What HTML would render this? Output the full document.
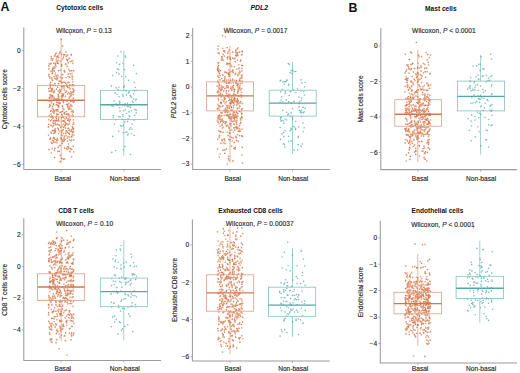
<!DOCTYPE html><html><head><meta charset="utf-8"><style>html,body{margin:0;padding:0;background:#fff;width:520px;height:373px;overflow:hidden}svg{display:block}text{font-family:"Liberation Sans",sans-serif;fill:#262626;stroke:#262626;stroke-width:0.14px}</style></head><body>
<svg width="520" height="373" viewBox="0 0 520 373">
<text x="0.4" y="11.3" style="font-size:12.4px;font-weight:bold;fill:#111;stroke:none">A</text>
<text x="348.4" y="11.5" style="font-size:12.4px;font-weight:bold;fill:#111;stroke:none">B</text>
<path d="M23.8 27.5V169.5H161" fill="none" stroke="#9c9c9c" stroke-width="1.05"/>
<path d="M21.8 50.5H23.8M21.8 88.5H23.8M21.8 126.4H23.8M21.8 164.4H23.8M61.2 169.5V171.5M123.8 169.5V171.5" stroke="#9c9c9c" stroke-width="0.8"/>
<text x="20.6" y="52.8" text-anchor="end" style="font-size:6.6px">0</text>
<text x="20.6" y="90.8" text-anchor="end" style="font-size:6.6px">−2</text>
<text x="20.6" y="128.70000000000002" text-anchor="end" style="font-size:6.6px">−4</text>
<text x="20.6" y="166.70000000000002" text-anchor="end" style="font-size:6.6px">−6</text>
<path d="M61.2 38V85.5M61.2 116.8V162.8" stroke="#d8a084" stroke-width="0.75"/>
<path d="M72.1 101.1h0M63.4 102.6h0M64.5 70.9h0M56.2 139.6h0M73.5 128.4h0M48.8 119.6h0M53.3 109.7h0M60.3 77.3h0M61.7 99.8h0M65.4 122.4h0M73.9 101.7h0M54.3 130.0h0M68.0 82.7h0M58.3 95.2h0M50.6 138.0h0M67.8 87.6h0M51.0 63.3h0M67.1 100.6h0M53.8 63.2h0M71.1 140.8h0M70.3 73.8h0M73.7 122.5h0M68.2 74.1h0M50.3 87.2h0M73.0 92.0h0M70.6 104.7h0M71.7 70.7h0M53.3 142.4h0M49.4 97.6h0M69.5 129.6h0M52.9 117.4h0M54.2 131.4h0M64.1 113.2h0M55.3 73.0h0M52.9 100.4h0M51.8 91.7h0M73.5 90.9h0M63.4 124.2h0M48.9 65.9h0M64.7 158.8h0M56.6 104.5h0M71.4 111.7h0M68.7 133.3h0M68.6 148.4h0M63.3 120.6h0M64.8 118.8h0M67.2 132.3h0M69.9 115.6h0M66.3 104.3h0M72.0 106.2h0M56.1 78.9h0M52.7 126.6h0M56.8 99.9h0M59.4 125.2h0M51.9 115.9h0M70.1 106.1h0M59.9 81.3h0M59.0 81.1h0M56.5 120.7h0M49.2 101.1h0M66.5 148.6h0M68.7 114.5h0M60.0 52.2h0M49.6 76.8h0M64.5 121.1h0M72.9 124.0h0M60.6 127.3h0M60.5 70.2h0M55.4 130.7h0M61.7 89.1h0M58.5 119.4h0M60.0 131.6h0M58.0 120.7h0M68.8 114.3h0M66.9 123.6h0M71.4 131.1h0M56.6 110.7h0M59.7 89.4h0M60.9 112.2h0M68.6 69.5h0M61.6 65.9h0M50.6 105.7h0M55.8 75.0h0M61.8 132.4h0M70.0 85.2h0M70.2 151.8h0M62.1 114.7h0M49.1 106.9h0M62.8 95.3h0M50.1 105.5h0M72.9 110.9h0M59.5 103.5h0M53.3 103.8h0M51.7 119.8h0M53.4 138.1h0M64.3 86.4h0M62.0 78.3h0M59.0 99.4h0M53.6 109.8h0M62.0 121.3h0M67.4 146.8h0M72.0 85.7h0M54.5 150.3h0M50.9 132.1h0M68.6 144.0h0M65.9 64.2h0M65.9 52.0h0M66.0 135.7h0M51.1 71.4h0M52.2 108.2h0M69.9 70.9h0M72.8 60.8h0M56.8 102.2h0M59.4 102.8h0M66.3 117.9h0M60.0 145.4h0M53.4 133.5h0M48.8 68.7h0M63.7 121.1h0M69.0 107.0h0M69.3 134.1h0M70.9 95.8h0M68.0 128.5h0M50.2 95.8h0M48.7 88.6h0M64.4 90.2h0M65.3 125.3h0M58.4 114.4h0M73.5 129.2h0M58.7 133.5h0M58.0 55.7h0M71.6 61.1h0M73.2 112.2h0M64.7 114.2h0M63.7 141.5h0M72.2 135.8h0M52.7 68.1h0M49.9 106.0h0M57.8 109.5h0M62.8 82.3h0M54.7 83.5h0M67.7 54.8h0M67.6 94.1h0M71.6 156.7h0M73.3 98.5h0M72.4 77.5h0M73.5 131.7h0M51.3 142.3h0M53.6 120.5h0M65.5 64.0h0M63.3 101.5h0M62.0 97.4h0M51.3 133.0h0M55.4 120.6h0M63.5 127.4h0M53.3 121.5h0M55.3 54.5h0M51.0 98.0h0M50.6 111.2h0M64.6 126.4h0M53.8 92.2h0M69.9 88.8h0M69.1 58.4h0M53.9 120.5h0M69.1 98.0h0M73.7 91.7h0M67.5 86.8h0M70.8 91.7h0M62.8 58.9h0M56.1 104.8h0M53.9 137.6h0M56.2 124.8h0M55.6 131.9h0M67.0 66.1h0M66.6 91.4h0M72.5 114.3h0M56.5 140.7h0M71.3 95.2h0M57.8 78.1h0M58.3 91.1h0M69.8 140.1h0M67.8 113.6h0M49.0 149.5h0M62.9 108.3h0M62.4 140.9h0M50.5 139.1h0M54.0 123.3h0M68.0 136.5h0M73.2 94.6h0M62.2 126.0h0M71.8 131.5h0M65.5 96.4h0M68.9 109.2h0M52.1 97.6h0M53.6 92.4h0M73.2 98.0h0M51.3 56.7h0M53.0 123.2h0M63.4 57.0h0M51.2 152.8h0M54.4 70.9h0M54.1 131.0h0M52.8 70.9h0M62.4 135.6h0M55.1 142.3h0M72.9 88.7h0M49.7 104.5h0M61.6 93.5h0M48.7 124.3h0M68.8 103.4h0M52.4 130.6h0M55.0 67.7h0M52.3 80.1h0M69.4 137.1h0M66.7 59.3h0M60.4 61.0h0M68.6 146.9h0M50.7 97.1h0M62.3 143.4h0M69.7 109.4h0M50.3 85.2h0M66.7 84.5h0M51.1 90.6h0M73.2 94.5h0M62.8 130.2h0M73.8 101.8h0M64.2 140.3h0M62.2 82.8h0M58.4 83.7h0M53.5 125.3h0M72.6 132.7h0M56.9 113.6h0M52.0 143.4h0M58.7 130.0h0M52.4 60.2h0M50.3 64.0h0M68.0 107.8h0M56.9 142.8h0M58.7 96.6h0M64.0 139.2h0M51.1 88.7h0M68.6 92.7h0M52.0 89.8h0M69.8 108.3h0M50.5 120.9h0M66.2 77.6h0M57.6 87.2h0M73.3 102.3h0M62.7 111.4h0M69.5 118.0h0M69.7 77.2h0M53.0 58.6h0M65.6 124.4h0M63.6 133.4h0M53.5 140.8h0M58.3 102.9h0M61.7 114.4h0M56.9 79.8h0M65.6 122.5h0M58.9 117.8h0M67.8 120.5h0M73.9 134.9h0M62.9 96.2h0M71.5 109.3h0M67.0 86.2h0M56.2 117.5h0M51.6 117.1h0M58.6 100.5h0M56.2 109.5h0M50.2 94.7h0M59.2 125.2h0M67.5 141.0h0M50.9 114.0h0M62.2 139.5h0M54.6 157.5h0M50.0 83.8h0M63.4 94.9h0M71.4 55.2h0M72.3 84.8h0M72.0 73.3h0M69.9 151.3h0M52.8 90.0h0M67.0 55.7h0M56.3 58.9h0M53.0 130.3h0M65.3 139.3h0M72.1 75.9h0M64.8 125.4h0M62.0 99.8h0M69.0 82.2h0M67.7 59.8h0M62.4 77.8h0M60.2 161.6h0M72.2 134.8h0M62.6 106.5h0M65.3 122.9h0M61.3 138.5h0M52.9 108.8h0M64.0 138.1h0M68.2 76.6h0M54.1 76.7h0M49.3 115.6h0M63.1 117.4h0M52.3 148.6h0M55.1 99.1h0M71.6 140.2h0M68.7 114.3h0M56.4 76.9h0M64.3 54.8h0M63.5 109.4h0M52.5 69.4h0M68.5 128.0h0M57.7 56.9h0M67.5 66.3h0M71.2 54.4h0M56.0 66.0h0M49.3 98.0h0M54.9 132.9h0M60.2 112.4h0M64.0 88.1h0M65.0 54.5h0M66.2 56.6h0M58.2 94.4h0M57.3 138.3h0M53.9 68.5h0M59.8 102.9h0M58.2 147.5h0M48.9 91.0h0M58.5 70.6h0M52.3 80.4h0M71.6 136.5h0M71.0 93.4h0M61.7 86.8h0M54.5 56.2h0M63.6 54.6h0M59.3 53.6h0M66.5 111.5h0M53.6 125.3h0M70.6 95.8h0M57.2 75.5h0M49.0 74.4h0M69.1 121.2h0M64.6 148.1h0M58.4 60.2h0M56.8 56.8h0M52.5 106.2h0M52.7 95.5h0M50.8 125.2h0M52.3 88.6h0M62.6 115.8h0M58.4 129.1h0M58.8 91.2h0M56.7 116.2h0M57.3 78.6h0M64.2 71.0h0M68.1 115.1h0M58.9 120.9h0M69.6 97.0h0M71.7 149.4h0M61.4 54.3h0M73.4 84.9h0M54.2 66.9h0M48.4 126.9h0M54.5 111.5h0M62.4 105.8h0M69.7 120.6h0M56.4 89.2h0M66.0 130.9h0M57.9 105.4h0M54.8 110.3h0M61.6 86.7h0M50.2 64.2h0M68.2 62.7h0M70.6 104.3h0M54.9 148.3h0M58.4 107.3h0M66.7 130.9h0M67.8 86.9h0M66.5 114.1h0M68.9 120.4h0M65.5 64.1h0M48.8 76.1h0M73.2 116.2h0M58.6 97.4h0M55.7 63.4h0M49.1 63.6h0M58.0 111.3h0M69.9 84.9h0M64.2 82.1h0M62.4 94.0h0M52.9 140.4h0M51.5 78.4h0M62.9 86.6h0M60.7 81.0h0M49.7 91.3h0M53.1 85.0h0M53.6 104.6h0M58.5 96.8h0M55.5 124.2h0M52.7 69.9h0M57.6 63.4h0M61.6 135.2h0M61.9 158.4h0M69.0 133.1h0M71.7 129.7h0M57.9 75.7h0M57.7 124.2h0M55.5 122.1h0M67.4 60.6h0M52.9 111.7h0M57.4 62.0h0M61.3 98.7h0M62.2 95.6h0M67.7 149.5h0M54.0 98.6h0M53.0 96.1h0M73.7 70.7h0M53.8 92.7h0M70.3 119.6h0M62.9 121.0h0M65.4 128.0h0M54.3 97.4h0M61.6 117.9h0M63.6 100.5h0M60.4 155.3h0M73.7 85.4h0M51.6 95.4h0M69.6 123.4h0M73.8 140.1h0M69.1 130.4h0M70.6 101.3h0M64.9 72.1h0M54.6 138.9h0M71.6 137.1h0M57.8 140.0h0M57.3 61.3h0M58.3 63.3h0M73.7 151.9h0M57.1 98.7h0M55.5 85.6h0M53.0 118.1h0M51.4 102.7h0M73.9 90.4h0M57.6 128.2h0M52.1 85.1h0M69.4 121.3h0M61.4 96.2h0M63.2 129.5h0M72.3 126.5h0M63.8 93.8h0M59.1 100.7h0M72.8 81.8h0M65.6 83.1h0M51.8 77.7h0M59.2 151.2h0M70.2 88.6h0M50.9 116.8h0M57.7 151.3h0M65.5 92.3h0M72.7 88.9h0M60.3 103.0h0M63.9 85.7h0M58.7 57.5h0M73.7 124.1h0M52.1 73.7h0M50.5 94.6h0M54.9 120.4h0M60.4 137.7h0M51.2 110.6h0M61.4 139.2h0M61.5 64.7h0M49.8 77.9h0M62.7 74.6h0M51.1 101.9h0M73.2 146.1h0M64.1 109.3h0M52.3 96.7h0M62.0 130.5h0M56.1 53.2h0M59.1 145.8h0M51.3 58.9h0M71.1 105.3h0M58.5 106.6h0M55.0 83.8h0M60.6 91.6h0M59.9 90.5h0M54.1 111.9h0M56.4 61.2h0M67.6 104.7h0M58.8 105.1h0M63.6 159.2h0M56.1 117.6h0M56.5 118.8h0M67.7 106.2h0M54.9 56.0h0M58.7 98.1h0M50.6 82.3h0M69.4 87.1h0M49.9 139.1h0M64.4 136.3h0M64.8 112.4h0M48.5 135.1h0M65.8 133.3h0M58.1 99.8h0M51.4 100.6h0M50.2 86.2h0M51.3 125.3h0M72.8 63.4h0M53.8 113.3h0M69.9 96.9h0M59.5 103.4h0M72.2 92.7h0M58.3 105.8h0M67.4 138.0h0M52.6 72.8h0M61.7 89.5h0M70.0 93.9h0M60.7 90.5h0M55.1 128.8h0M55.0 132.5h0M59.5 92.7h0M73.4 119.8h0M67.7 105.0h0M70.1 61.6h0M56.9 114.2h0M62.1 74.7h0M68.0 118.9h0M72.1 115.8h0M72.7 127.9h0M70.4 131.2h0M54.8 132.1h0M54.9 78.7h0M55.4 64.9h0M61.4 82.2h0M70.4 148.7h0M62.1 111.4h0M68.2 124.6h0M72.4 79.4h0M54.4 91.0h0M67.1 101.2h0M70.1 34.0h0M61.3 39.2h0M62.5 46.0h0" stroke="#d8662e" stroke-opacity="0.62" stroke-width="1.7" stroke-linecap="round"/>
<path d="M72.1 101.1h0M64.5 70.9h0M73.5 128.4h0M53.3 109.7h0M61.7 99.8h0M73.9 101.7h0M68.0 82.7h0M50.6 138.0h0M51.0 63.3h0M53.8 63.2h0M70.3 73.8h0M68.2 74.1h0M73.0 92.0h0M71.7 70.7h0M49.4 97.6h0M52.9 117.4h0M64.1 113.2h0M52.9 100.4h0M73.5 90.9h0M48.9 65.9h0M56.6 104.5h0M68.7 133.3h0M63.3 120.6h0M67.2 132.3h0M66.3 104.3h0M56.1 78.9h0M56.8 99.9h0M51.9 115.9h0M59.9 81.3h0M56.5 120.7h0M66.5 148.6h0M60.0 52.2h0M64.5 121.1h0M60.6 127.3h0M55.4 130.7h0M58.5 119.4h0M58.0 120.7h0M66.9 123.6h0M56.6 110.7h0M60.9 112.2h0M61.6 65.9h0M55.8 75.0h0M70.0 85.2h0M62.1 114.7h0M62.8 95.3h0M72.9 110.9h0M53.3 103.8h0M53.4 138.1h0M62.0 78.3h0M53.6 109.8h0M67.4 146.8h0M54.5 150.3h0M68.6 144.0h0M65.9 52.0h0M51.1 71.4h0M69.9 70.9h0M56.8 102.2h0M66.3 117.9h0M53.4 133.5h0M63.7 121.1h0M69.3 134.1h0M68.0 128.5h0M48.7 88.6h0M65.3 125.3h0M73.5 129.2h0M58.0 55.7h0M73.2 112.2h0M63.7 141.5h0M52.7 68.1h0M57.8 109.5h0M54.7 83.5h0M67.6 94.1h0M73.3 98.5h0M73.5 131.7h0M53.6 120.5h0M63.3 101.5h0M51.3 133.0h0M63.5 127.4h0M55.3 54.5h0M50.6 111.2h0M53.8 92.2h0M69.1 58.4h0M69.1 98.0h0M67.5 86.8h0M62.8 58.9h0M53.9 137.6h0M55.6 131.9h0M66.6 91.4h0M56.5 140.7h0M57.8 78.1h0M69.8 140.1h0M49.0 149.5h0M62.4 140.9h0M54.0 123.3h0M73.2 94.6h0M71.8 131.5h0M68.9 109.2h0M53.6 92.4h0M51.3 56.7h0M63.4 57.0h0M54.4 70.9h0M52.8 70.9h0M55.1 142.3h0M49.7 104.5h0M48.7 124.3h0M52.4 130.6h0M52.3 80.1h0M66.7 59.3h0M68.6 146.9h0M62.3 143.4h0M50.3 85.2h0M51.1 90.6h0M62.8 130.2h0M64.2 140.3h0M58.4 83.7h0M72.6 132.7h0M52.0 143.4h0M52.4 60.2h0M68.0 107.8h0M58.7 96.6h0M51.1 88.7h0M52.0 89.8h0M50.5 120.9h0M57.6 87.2h0M62.7 111.4h0M69.7 77.2h0M65.6 124.4h0M53.5 140.8h0M61.7 114.4h0M65.6 122.5h0M67.8 120.5h0M62.9 96.2h0M67.0 86.2h0M51.6 117.1h0M56.2 109.5h0M59.2 125.2h0M50.9 114.0h0M54.6 157.5h0M63.4 94.9h0M72.3 84.8h0M69.9 151.3h0M67.0 55.7h0M53.0 130.3h0M72.1 75.9h0M62.0 99.8h0M67.7 59.8h0M60.2 161.6h0M62.6 106.5h0M61.3 138.5h0M64.0 138.1h0M54.1 76.7h0M63.1 117.4h0M55.1 99.1h0M68.7 114.3h0M64.3 54.8h0M52.5 69.4h0M57.7 56.9h0M71.2 54.4h0M49.3 98.0h0M60.2 112.4h0M65.0 54.5h0M58.2 94.4h0M53.9 68.5h0M58.2 147.5h0M58.5 70.6h0M71.6 136.5h0M61.7 86.8h0M63.6 54.6h0M66.5 111.5h0M70.6 95.8h0M49.0 74.4h0M64.6 148.1h0M56.8 56.8h0M52.7 95.5h0M52.3 88.6h0M58.4 129.1h0M56.7 116.2h0M64.2 71.0h0M58.9 120.9h0M71.7 149.4h0M73.4 84.9h0M48.4 126.9h0M62.4 105.8h0M56.4 89.2h0M57.9 105.4h0M61.6 86.7h0M68.2 62.7h0M54.9 148.3h0M66.7 130.9h0M66.5 114.1h0M65.5 64.1h0M73.2 116.2h0M55.7 63.4h0M58.0 111.3h0M64.2 82.1h0M52.9 140.4h0M62.9 86.6h0M49.7 91.3h0M53.6 104.6h0M55.5 124.2h0M57.6 63.4h0M61.9 158.4h0M71.7 129.7h0M57.7 124.2h0M67.4 60.6h0M57.4 62.0h0M62.2 95.6h0M54.0 98.6h0M73.7 70.7h0M70.3 119.6h0M65.4 128.0h0M61.6 117.9h0M60.4 155.3h0M51.6 95.4h0M73.8 140.1h0M70.6 101.3h0M54.6 138.9h0M57.8 140.0h0M58.3 63.3h0M57.1 98.7h0M53.0 118.1h0M73.9 90.4h0M52.1 85.1h0M61.4 96.2h0M72.3 126.5h0M59.1 100.7h0M65.6 83.1h0M59.2 151.2h0M50.9 116.8h0M65.5 92.3h0M60.3 103.0h0M58.7 57.5h0M52.1 73.7h0M54.9 120.4h0M51.2 110.6h0M61.5 64.7h0M62.7 74.6h0M73.2 146.1h0M52.3 96.7h0M56.1 53.2h0M51.3 58.9h0M58.5 106.6h0M60.6 91.6h0M54.1 111.9h0M67.6 104.7h0M63.6 159.2h0M56.5 118.8h0M54.9 56.0h0M50.6 82.3h0M49.9 139.1h0M64.8 112.4h0M65.8 133.3h0M51.4 100.6h0M51.3 125.3h0M53.8 113.3h0M59.5 103.4h0M58.3 105.8h0M52.6 72.8h0M70.0 93.9h0M55.1 128.8h0M59.5 92.7h0M67.7 105.0h0M56.9 114.2h0M68.0 118.9h0M72.7 127.9h0M54.8 132.1h0M55.4 64.9h0M70.4 148.7h0M68.2 124.6h0M54.4 91.0h0M70.1 34.0h0M62.5 46.0h0" stroke="#a04e24" stroke-opacity="0.5" stroke-width="0.9" stroke-linecap="round"/>
<rect x="37.5" y="85.5" width="47.2" height="31.3" fill="none" stroke="#d8a084" stroke-width="0.8"/>
<path d="M37.5 100.3H84.7" stroke="#d07850" stroke-width="1.4"/>
<path d="M123.8 50.9V90.3M123.8 119.5V155.8" stroke="#86c0c0" stroke-width="0.75"/>
<path d="M135.3 87.3h0M134.1 120.3h0M125.6 57.3h0M124.5 105.8h0M116.1 87.9h0M123.4 125.4h0M125.4 109.7h0M119.6 64.4h0M123.5 150.0h0M126.7 113.2h0M113.2 115.6h0M111.8 105.6h0M111.8 152.4h0M130.4 105.6h0M112.7 136.4h0M111.4 85.9h0M126.0 132.4h0M128.3 106.3h0M133.6 98.7h0M117.5 68.8h0M119.5 101.3h0M118.7 69.7h0M124.8 122.1h0M121.6 76.2h0M131.2 133.7h0M126.2 90.6h0M131.9 129.3h0M134.4 90.7h0M133.5 65.4h0M118.0 89.8h0M115.7 150.5h0M118.9 87.2h0M124.5 69.6h0M130.5 107.8h0M113.1 106.4h0M118.9 73.9h0M119.5 103.9h0M131.3 110.8h0M122.9 114.5h0M130.5 154.6h0M115.2 92.9h0M116.6 72.6h0M115.7 119.8h0M123.1 116.2h0M120.1 116.8h0M122.8 94.6h0M128.6 80.4h0M123.7 87.1h0M123.7 90.5h0M113.3 117.6h0M127.4 103.2h0M131.5 97.4h0M134.1 135.4h0M125.2 103.9h0M132.5 101.6h0M116.0 103.8h0M134.5 82.5h0M134.9 115.3h0M128.1 118.9h0M129.6 116.6h0M120.0 102.6h0M127.7 135.1h0M118.0 105.2h0M124.4 85.7h0M133.1 102.2h0M130.1 107.3h0M125.9 76.7h0M112.8 75.8h0M127.4 106.4h0M117.0 94.3h0M114.1 100.7h0M130.5 96.3h0M135.0 109.4h0M124.9 146.6h0M125.1 56.1h0M130.6 127.8h0M122.7 119.3h0M123.2 96.3h0M117.9 56.0h0M114.3 124.3h0M130.1 95.5h0M128.4 93.1h0M129.2 115.9h0M123.1 63.8h0M121.0 51.8h0M135.4 100.1h0M136.2 112.9h0M116.7 62.8h0M133.7 93.9h0M120.4 125.8h0M119.1 96.7h0M118.8 116.8h0M123.1 132.7h0M136.0 90.2h0M128.2 134.1h0M129.5 129.3h0M127.7 121.6h0M119.7 107.7h0M121.7 126.1h0M126.7 132.0h0M136.4 73.6h0M129.2 91.9h0M129.1 111.9h0M136.3 110.1h0M123.7 110.7h0M126.5 94.9h0M136.4 99.3h0M120.0 110.9h0M118.7 131.2h0M132.2 124.0h0" stroke="#4aa3a3" stroke-opacity="0.72" stroke-width="1.6" stroke-linecap="round"/>
<rect x="100.4" y="90.3" width="47.1" height="29.2" fill="none" stroke="#86c0c0" stroke-width="0.8"/>
<path d="M100.4 104.8H147.5" stroke="#55a6a6" stroke-width="1.4"/>
<text x="62.8" y="180.9" text-anchor="middle" style="font-size:6.6px">Basal</text>
<text x="124.8" y="180.9" text-anchor="middle" style="font-size:6.6px">Non-basal</text>
<text x="56.300000000000004" y="10.4" textLength="46.8" lengthAdjust="spacingAndGlyphs" style="font-size:6.6px;font-weight:bold;fill:#111;stroke:none">Cytotoxic cells</text>
<text x="55.900000000000006" y="33.4" textLength="55.7" lengthAdjust="spacing" style="font-size:6.6px">Wilcoxon, <tspan font-style="italic">P</tspan> = 0.13</text>
<text transform="translate(7.1 99.2) rotate(-90)" text-anchor="middle" style="font-size:6.6px">Cytotoxic cells score</text>
<path d="M192.7 28V169.5H330" fill="none" stroke="#9c9c9c" stroke-width="1.05"/>
<path d="M190.7 35.7H192.7M190.7 61.4H192.7M190.7 87.0H192.7M190.7 112.7H192.7M190.7 138.3H192.7M190.7 164.0H192.7M230 169.5V171.5M292.5 169.5V171.5" stroke="#9c9c9c" stroke-width="0.8"/>
<text x="189.5" y="38.0" text-anchor="end" style="font-size:6.6px">2</text>
<text x="189.5" y="63.699999999999996" text-anchor="end" style="font-size:6.6px">1</text>
<text x="189.5" y="89.3" text-anchor="end" style="font-size:6.6px">0</text>
<text x="189.5" y="115.0" text-anchor="end" style="font-size:6.6px">−1</text>
<text x="189.5" y="140.60000000000002" text-anchor="end" style="font-size:6.6px">−2</text>
<text x="189.5" y="166.3" text-anchor="end" style="font-size:6.6px">−3</text>
<path d="M230 46V81.9M230 110.9V163" stroke="#d8a084" stroke-width="0.75"/>
<path d="M226.4 90.9h0M226.8 109.4h0M225.2 123.6h0M220.2 75.5h0M229.7 133.2h0M238.2 128.1h0M235.2 147.4h0M239.7 128.5h0M225.2 71.8h0M231.8 98.1h0M233.1 72.4h0M228.2 86.3h0M226.3 125.9h0M239.8 129.4h0M226.5 148.9h0M219.6 110.1h0M242.4 51.2h0M218.8 116.8h0M235.0 58.0h0M234.3 66.8h0M229.2 128.1h0M226.3 80.1h0M224.7 88.5h0M225.1 76.8h0M220.1 115.9h0M239.9 106.4h0M230.0 123.8h0M230.1 94.8h0M230.8 101.3h0M224.9 72.4h0M222.1 119.2h0M236.3 126.7h0M231.4 99.6h0M242.1 54.8h0M225.1 110.1h0M242.6 162.9h0M227.2 47.6h0M231.6 121.5h0M229.1 114.7h0M231.1 71.6h0M233.4 85.7h0M219.1 123.5h0M241.7 135.9h0M233.5 111.9h0M237.6 52.8h0M218.0 62.6h0M241.7 65.3h0M238.4 83.9h0M223.7 91.2h0M229.9 130.4h0M222.0 125.6h0M238.8 74.0h0M227.0 125.0h0M218.7 130.7h0M230.8 104.1h0M242.4 51.8h0M221.0 89.8h0M221.8 115.9h0M236.8 105.0h0M222.1 112.7h0M239.3 131.5h0M229.2 49.9h0M238.3 131.2h0M218.2 63.4h0M218.4 91.0h0M220.1 154.1h0M220.1 79.8h0M230.9 65.8h0M231.7 90.3h0M229.3 105.9h0M217.4 68.8h0M241.3 92.3h0M235.3 61.6h0M240.5 89.9h0M224.7 50.8h0M239.0 67.9h0M242.3 136.3h0M241.7 88.7h0M220.6 93.6h0M233.3 138.1h0M232.7 79.0h0M239.1 68.6h0M222.1 89.1h0M231.5 146.2h0M217.2 86.1h0M235.5 121.2h0M235.7 73.4h0M227.4 95.7h0M229.1 82.9h0M237.2 126.9h0M218.1 118.8h0M235.9 94.9h0M242.0 113.5h0M218.1 52.9h0M234.7 100.2h0M226.7 110.6h0M218.0 49.0h0M230.8 65.1h0M239.3 111.4h0M217.5 120.7h0M232.6 102.2h0M218.7 106.1h0M228.9 139.5h0M227.3 105.7h0M226.3 93.0h0M227.4 164.0h0M228.0 63.8h0M228.6 117.0h0M239.9 80.8h0M239.9 71.2h0M220.7 103.0h0M232.7 71.2h0M237.2 85.6h0M233.9 58.9h0M237.4 101.5h0M232.6 70.4h0M240.7 101.5h0M240.3 83.8h0M230.1 139.8h0M236.2 83.5h0M228.0 135.6h0M229.1 128.2h0M221.5 60.0h0M226.6 122.0h0M235.2 117.5h0M236.9 116.6h0M242.0 117.8h0M226.8 94.0h0M233.8 94.4h0M238.9 87.6h0M225.3 121.8h0M220.8 90.6h0M236.6 55.9h0M222.4 87.6h0M224.3 80.3h0M233.6 132.0h0M222.1 140.7h0M237.5 60.1h0M228.8 117.2h0M218.1 116.6h0M242.1 95.7h0M239.4 88.4h0M237.9 113.8h0M227.7 57.5h0M241.7 114.2h0M234.3 101.8h0M235.5 94.8h0M237.4 127.3h0M220.9 143.4h0M241.7 51.6h0M229.1 82.5h0M237.1 112.6h0M237.8 85.1h0M236.9 54.2h0M227.8 115.7h0M229.0 107.4h0M222.3 58.6h0M217.3 108.9h0M238.3 90.8h0M223.1 60.2h0M226.2 101.9h0M229.2 97.6h0M234.7 89.7h0M231.7 129.9h0M227.1 63.1h0M219.2 88.4h0M238.6 96.2h0M220.7 89.5h0M227.0 115.7h0M217.6 66.8h0M235.7 136.3h0M222.0 139.3h0M236.1 83.2h0M226.3 81.7h0M223.9 101.7h0M224.9 140.9h0M234.6 98.2h0M224.7 52.0h0M232.4 95.4h0M223.5 142.7h0M223.0 132.3h0M227.8 53.4h0M231.7 110.5h0M234.5 80.3h0M226.9 85.6h0M224.8 77.9h0M218.0 81.2h0M239.7 102.7h0M230.7 88.5h0M237.3 48.8h0M226.0 111.7h0M237.5 134.6h0M232.0 100.5h0M239.2 108.0h0M240.5 118.7h0M221.4 90.3h0M236.5 112.4h0M225.1 103.7h0M223.0 150.2h0M219.3 137.7h0M229.5 108.3h0M239.9 85.9h0M228.6 156.3h0M227.7 59.0h0M232.5 101.8h0M229.0 72.9h0M226.1 121.9h0M222.6 48.3h0M223.4 50.9h0M242.0 77.1h0M236.8 101.8h0M230.6 106.1h0M233.6 124.1h0M241.8 70.9h0M235.9 51.1h0M242.6 103.6h0M234.2 98.7h0M233.6 127.9h0M228.8 100.5h0M220.0 126.3h0M222.9 74.9h0M240.6 95.1h0M239.4 125.8h0M232.9 117.9h0M219.0 87.8h0M234.6 124.4h0M241.8 117.5h0M232.9 100.2h0M232.9 121.3h0M238.5 88.9h0M237.0 116.0h0M227.3 87.5h0M227.3 57.5h0M225.9 95.9h0M217.6 108.6h0M230.6 80.4h0M218.9 77.4h0M238.1 87.2h0M236.2 116.2h0M236.3 52.5h0M231.7 137.5h0M220.6 119.7h0M234.3 91.4h0M224.9 76.6h0M234.2 117.6h0M241.5 54.9h0M237.5 108.2h0M235.1 98.7h0M237.0 128.8h0M230.7 114.3h0M240.0 78.5h0M226.6 87.2h0M241.9 68.5h0M221.4 115.5h0M222.9 80.9h0M229.8 63.4h0M241.6 95.6h0M230.8 83.0h0M232.8 58.1h0M235.2 149.2h0M242.0 74.9h0M226.6 109.8h0M224.8 153.4h0M226.3 87.7h0M233.0 70.0h0M230.9 123.6h0M238.3 141.3h0M237.5 74.8h0M241.5 109.3h0M222.3 128.0h0M231.4 102.9h0M220.3 95.2h0M220.4 70.6h0M220.1 117.5h0M220.6 121.8h0M237.7 116.1h0M225.0 143.6h0M238.6 103.6h0M218.6 71.5h0M242.5 136.2h0M239.4 80.2h0M238.1 55.5h0M218.6 100.0h0M228.9 94.1h0M219.2 53.4h0M238.4 96.1h0M231.4 118.0h0M238.7 64.8h0M233.4 115.0h0M228.2 51.7h0M218.4 115.8h0M241.0 111.9h0M217.6 70.4h0M217.6 148.8h0M232.9 114.0h0M224.6 79.0h0M239.5 135.6h0M232.1 86.8h0M218.2 82.6h0M219.8 118.0h0M236.5 137.6h0M241.1 78.2h0M226.9 114.7h0M233.6 113.2h0M226.6 72.6h0M231.2 97.2h0M231.4 107.1h0M231.3 126.0h0M228.5 73.8h0M230.5 80.6h0M237.4 99.6h0M224.3 56.1h0M219.2 70.0h0M233.7 107.8h0M229.5 116.8h0M229.1 118.3h0M236.0 127.3h0M236.9 118.7h0M228.3 80.0h0M217.6 91.4h0M233.0 115.8h0M234.3 120.8h0M234.5 112.1h0M242.0 129.0h0M230.3 102.8h0M239.9 88.3h0M242.2 147.4h0M221.4 121.2h0M239.5 88.0h0M237.5 101.6h0M241.6 116.7h0M231.2 116.7h0M233.8 148.3h0M221.3 103.5h0M228.0 73.4h0M233.1 117.0h0M237.8 101.9h0M223.7 110.5h0M234.7 130.1h0M232.0 97.7h0M231.6 107.7h0M238.2 47.8h0M221.7 78.5h0M217.7 104.4h0M218.6 65.5h0M242.0 83.2h0M234.4 115.7h0M229.5 74.3h0M229.8 103.0h0M232.2 141.0h0M222.0 56.8h0M223.0 105.6h0M236.4 127.3h0M219.4 106.1h0M218.1 122.2h0M236.8 69.1h0M234.6 98.7h0M235.2 98.5h0M230.2 58.2h0M241.4 97.1h0M229.8 99.4h0M234.1 93.1h0M226.3 83.4h0M217.4 92.2h0M221.0 102.8h0M227.5 132.4h0M228.1 96.8h0M241.5 75.9h0M221.2 102.6h0M222.9 120.3h0M240.4 61.0h0M236.8 124.2h0M237.1 54.0h0M230.2 136.5h0M218.9 108.0h0M233.5 116.3h0M227.7 112.5h0M223.5 127.4h0M228.2 110.8h0M235.0 74.3h0M228.2 83.0h0M236.9 120.6h0M225.2 98.7h0M226.5 111.7h0M220.7 102.2h0M217.7 139.4h0M224.8 149.9h0M229.9 57.2h0M234.3 142.4h0M218.7 62.6h0M235.5 114.5h0M235.7 95.5h0M221.8 113.1h0M232.5 80.5h0M236.7 101.1h0M231.3 120.1h0M229.1 76.2h0M221.0 87.5h0M217.9 75.9h0M227.5 108.0h0M240.2 123.7h0M223.4 87.1h0M226.9 64.4h0M221.3 85.5h0M237.6 93.2h0M228.2 87.7h0M219.0 94.7h0M233.1 89.0h0M233.4 103.2h0M228.7 94.8h0M241.7 78.1h0M230.9 87.1h0M235.7 55.4h0M234.5 104.4h0M221.7 56.9h0M224.5 81.9h0M230.6 59.5h0M219.6 135.4h0M220.8 131.9h0M237.3 103.9h0M226.8 105.7h0M219.9 92.0h0M221.2 97.0h0M232.6 110.2h0M233.6 102.3h0M218.3 98.3h0M236.7 80.7h0M237.2 102.5h0M227.2 107.4h0M218.1 46.2h0M231.0 110.2h0M228.4 126.4h0M233.9 118.1h0M222.5 86.5h0M230.7 103.8h0M235.5 52.5h0M242.7 65.6h0M236.9 117.9h0M217.9 92.7h0M231.5 101.3h0M219.2 105.8h0M230.3 118.6h0M222.3 94.6h0M224.0 100.3h0M218.3 68.0h0M223.6 122.2h0M233.8 99.9h0M236.2 101.0h0M235.9 82.4h0M219.1 119.4h0M220.0 89.1h0M238.6 73.1h0M236.0 50.2h0M219.2 135.9h0M236.6 122.6h0M229.0 105.3h0M237.4 98.6h0M224.2 115.3h0M232.6 86.8h0M236.6 111.9h0M224.2 97.7h0M231.3 88.8h0M237.4 83.8h0M224.4 138.8h0M238.3 100.6h0M228.7 70.1h0M232.7 52.0h0M219.0 117.3h0M225.0 112.2h0M229.6 72.3h0M234.5 89.3h0M242.4 108.6h0M224.0 139.5h0M221.7 119.9h0M237.8 91.7h0M225.4 108.7h0M239.5 52.2h0M242.3 81.2h0M228.8 90.9h0M229.3 160.3h0M240.7 122.4h0M219.2 85.9h0M237.4 55.3h0M237.1 108.6h0M233.4 105.8h0M220.9 112.8h0M240.8 60.1h0M226.2 115.0h0M238.2 89.9h0M233.1 87.6h0M217.6 69.2h0M220.7 106.7h0M222.6 106.0h0M235.2 114.8h0M224.6 99.0h0M240.6 120.1h0M219.1 72.1h0M222.0 99.8h0M222.8 121.5h0M217.9 117.3h0M232.6 71.1h0M231.4 118.7h0M219.4 73.6h0M218.9 88.6h0M228.7 74.7h0M240.9 102.8h0M236.5 140.6h0M236.2 137.8h0M227.9 87.5h0M237.9 75.7h0M235.8 116.6h0M234.9 127.7h0M230.9 124.0h0M233.5 82.8h0M234.6 119.1h0M234.9 101.4h0M233.0 160.9h0M230.1 118.4h0M239.5 105.8h0M234.3 97.3h0M223.1 54.4h0M240.0 72.7h0M240.1 131.2h0M241.9 155.0h0M236.5 80.4h0M240.4 80.7h0M219.8 131.6h0M231.8 66.4h0M219.4 84.1h0M217.8 109.1h0M229.8 132.9h0M219.3 157.0h0M229.0 63.6h0M222.3 123.9h0M219.5 115.1h0M227.8 56.7h0M219.1 85.3h0M232.5 89.1h0M228.4 158.8h0M239.9 87.9h0M222.5 35.6h0M225.4 37.0h0" stroke="#d8662e" stroke-opacity="0.62" stroke-width="1.7" stroke-linecap="round"/>
<path d="M226.4 90.9h0M225.2 123.6h0M229.7 133.2h0M235.2 147.4h0M225.2 71.8h0M233.1 72.4h0M226.3 125.9h0M226.5 148.9h0M242.4 51.2h0M235.0 58.0h0M229.2 128.1h0M224.7 88.5h0M220.1 115.9h0M230.0 123.8h0M230.8 101.3h0M222.1 119.2h0M231.4 99.6h0M225.1 110.1h0M227.2 47.6h0M229.1 114.7h0M233.4 85.7h0M241.7 135.9h0M237.6 52.8h0M241.7 65.3h0M223.7 91.2h0M222.0 125.6h0M227.0 125.0h0M230.8 104.1h0M221.0 89.8h0M236.8 105.0h0M239.3 131.5h0M238.3 131.2h0M218.4 91.0h0M220.1 79.8h0M231.7 90.3h0M217.4 68.8h0M235.3 61.6h0M224.7 50.8h0M242.3 136.3h0M220.6 93.6h0M232.7 79.0h0M222.1 89.1h0M217.2 86.1h0M235.7 73.4h0M229.1 82.9h0M218.1 118.8h0M242.0 113.5h0M234.7 100.2h0M218.0 49.0h0M239.3 111.4h0M232.6 102.2h0M228.9 139.5h0M226.3 93.0h0M228.0 63.8h0M239.9 80.8h0M220.7 103.0h0M237.2 85.6h0M237.4 101.5h0M240.7 101.5h0M230.1 139.8h0M228.0 135.6h0M221.5 60.0h0M235.2 117.5h0M242.0 117.8h0M233.8 94.4h0M225.3 121.8h0M236.6 55.9h0M224.3 80.3h0M222.1 140.7h0M228.8 117.2h0M242.1 95.7h0M237.9 113.8h0M241.7 114.2h0M235.5 94.8h0M220.9 143.4h0M229.1 82.5h0M237.8 85.1h0M227.8 115.7h0M222.3 58.6h0M238.3 90.8h0M226.2 101.9h0M234.7 89.7h0M227.1 63.1h0M238.6 96.2h0M227.0 115.7h0M235.7 136.3h0M236.1 83.2h0M223.9 101.7h0M234.6 98.2h0M232.4 95.4h0M223.0 132.3h0M231.7 110.5h0M226.9 85.6h0M218.0 81.2h0M230.7 88.5h0M226.0 111.7h0M232.0 100.5h0M240.5 118.7h0M236.5 112.4h0M223.0 150.2h0M229.5 108.3h0M228.6 156.3h0M232.5 101.8h0M226.1 121.9h0M223.4 50.9h0M236.8 101.8h0M233.6 124.1h0M235.9 51.1h0M234.2 98.7h0M228.8 100.5h0M222.9 74.9h0M239.4 125.8h0M219.0 87.8h0M241.8 117.5h0M232.9 121.3h0M237.0 116.0h0M227.3 57.5h0M217.6 108.6h0M218.9 77.4h0M236.2 116.2h0M231.7 137.5h0M234.3 91.4h0M234.2 117.6h0M237.5 108.2h0M237.0 128.8h0M240.0 78.5h0M241.9 68.5h0M222.9 80.9h0M241.6 95.6h0M232.8 58.1h0M242.0 74.9h0M224.8 153.4h0M233.0 70.0h0M238.3 141.3h0M241.5 109.3h0M231.4 102.9h0M220.4 70.6h0M220.6 121.8h0M225.0 143.6h0M218.6 71.5h0M239.4 80.2h0M218.6 100.0h0M219.2 53.4h0M231.4 118.0h0M233.4 115.0h0M218.4 115.8h0M217.6 70.4h0M232.9 114.0h0M239.5 135.6h0M218.2 82.6h0M236.5 137.6h0M226.9 114.7h0M226.6 72.6h0M231.4 107.1h0M228.5 73.8h0M237.4 99.6h0M219.2 70.0h0M229.5 116.8h0M236.0 127.3h0M228.3 80.0h0M233.0 115.8h0M234.5 112.1h0M230.3 102.8h0M242.2 147.4h0M239.5 88.0h0M241.6 116.7h0M233.8 148.3h0M228.0 73.4h0M237.8 101.9h0M234.7 130.1h0M231.6 107.7h0M221.7 78.5h0M218.6 65.5h0M234.4 115.7h0M229.8 103.0h0M222.0 56.8h0M236.4 127.3h0M218.1 122.2h0M234.6 98.7h0M230.2 58.2h0M229.8 99.4h0M226.3 83.4h0M221.0 102.8h0M228.1 96.8h0M221.2 102.6h0M240.4 61.0h0M237.1 54.0h0M218.9 108.0h0M227.7 112.5h0M228.2 110.8h0M228.2 83.0h0M225.2 98.7h0M220.7 102.2h0M224.8 149.9h0M234.3 142.4h0M235.5 114.5h0M221.8 113.1h0M236.7 101.1h0M229.1 76.2h0M217.9 75.9h0M240.2 123.7h0M226.9 64.4h0M237.6 93.2h0M219.0 94.7h0M233.4 103.2h0M241.7 78.1h0M235.7 55.4h0M221.7 56.9h0M230.6 59.5h0M220.8 131.9h0M226.8 105.7h0M221.2 97.0h0M233.6 102.3h0M236.7 80.7h0M227.2 107.4h0M231.0 110.2h0M233.9 118.1h0M230.7 103.8h0M242.7 65.6h0M217.9 92.7h0M219.2 105.8h0M222.3 94.6h0M218.3 68.0h0M233.8 99.9h0M235.9 82.4h0M220.0 89.1h0M236.0 50.2h0M236.6 122.6h0M237.4 98.6h0M232.6 86.8h0M224.2 97.7h0M237.4 83.8h0M238.3 100.6h0M232.7 52.0h0M225.0 112.2h0M234.5 89.3h0M224.0 139.5h0M237.8 91.7h0M239.5 52.2h0M228.8 90.9h0M240.7 122.4h0M237.4 55.3h0M233.4 105.8h0M240.8 60.1h0M238.2 89.9h0M217.6 69.2h0M222.6 106.0h0M224.6 99.0h0M219.1 72.1h0M222.8 121.5h0M232.6 71.1h0M219.4 73.6h0M228.7 74.7h0M236.5 140.6h0M227.9 87.5h0M235.8 116.6h0M230.9 124.0h0M234.6 119.1h0M233.0 160.9h0M239.5 105.8h0M223.1 54.4h0M240.1 131.2h0M236.5 80.4h0M219.8 131.6h0M219.4 84.1h0M229.8 132.9h0M229.0 63.6h0M219.5 115.1h0M219.1 85.3h0M228.4 158.8h0M222.5 35.6h0" stroke="#a04e24" stroke-opacity="0.5" stroke-width="0.9" stroke-linecap="round"/>
<rect x="206.6" y="81.9" width="46.9" height="29.0" fill="none" stroke="#d8a084" stroke-width="0.8"/>
<path d="M206.6 95.9H253.5" stroke="#d07850" stroke-width="1.4"/>
<path d="M292.5 62V90.2M292.5 116.1V154" stroke="#86c0c0" stroke-width="0.75"/>
<path d="M299.5 110.4h0M295.6 128.6h0M291.2 70.7h0M303.4 112.6h0M285.1 93.2h0M285.1 130.6h0M301.1 79.9h0M291.8 102.7h0M290.2 116.1h0M291.3 129.4h0M288.4 85.5h0M280.7 80.4h0M284.3 84.2h0M284.5 144.6h0M301.0 91.1h0M288.3 63.6h0M288.7 101.9h0M284.2 81.6h0M291.0 140.9h0M305.2 82.5h0M304.4 95.0h0M280.9 121.1h0M301.8 112.6h0M285.0 119.0h0M293.5 89.7h0M303.2 107.4h0M288.6 141.3h0M290.0 91.8h0M282.1 133.9h0M282.9 101.7h0M298.8 97.1h0M286.2 99.9h0M303.1 131.8h0M300.6 112.7h0M302.3 144.1h0M287.7 114.7h0M294.3 149.9h0M280.2 127.6h0M290.9 128.3h0M298.2 137.6h0M304.1 127.8h0M287.2 80.1h0M305.1 108.4h0M290.1 130.6h0M302.8 107.5h0M281.8 96.7h0M304.0 111.9h0M283.7 121.0h0M292.7 118.9h0M281.1 100.2h0M290.8 91.3h0M282.2 89.5h0M288.5 113.7h0M295.6 129.8h0M294.1 71.5h0M280.7 118.9h0M286.7 112.2h0M285.6 81.4h0M295.7 71.5h0M301.4 116.8h0M304.6 87.0h0M282.0 120.6h0M295.9 92.6h0M303.0 123.0h0M288.8 136.3h0M298.4 136.3h0M280.4 117.7h0M289.3 95.5h0M292.1 116.9h0M286.7 120.0h0M297.5 89.1h0M292.7 70.2h0M280.1 81.2h0M282.7 110.4h0M291.9 73.2h0M282.8 82.3h0M284.9 147.0h0M283.5 143.7h0M303.7 91.5h0M294.4 127.3h0M299.1 106.9h0M302.0 82.9h0M280.0 102.2h0M285.3 91.8h0M290.0 72.6h0M300.6 111.3h0M301.5 110.4h0M280.5 139.4h0M283.7 132.4h0M283.8 123.2h0M301.0 146.4h0M297.6 149.9h0M291.1 113.1h0M301.4 100.3h0M280.6 91.8h0M298.2 144.6h0M281.4 117.0h0M283.9 136.6h0M289.4 64.2h0M301.7 98.0h0M288.8 84.3h0M293.9 101.4h0M293.0 126.2h0M286.7 80.0h0M298.8 127.0h0M292.5 108.7h0M295.8 121.2h0M299.5 101.8h0M286.3 81.2h0M299.7 103.8h0" stroke="#4aa3a3" stroke-opacity="0.72" stroke-width="1.6" stroke-linecap="round"/>
<rect x="269.2" y="90.2" width="47.0" height="25.9" fill="none" stroke="#86c0c0" stroke-width="0.8"/>
<path d="M269.2 103.1H316.2" stroke="#55a6a6" stroke-width="1.4"/>
<text x="232.7" y="180.9" text-anchor="middle" style="font-size:6.6px">Basal</text>
<text x="293.2" y="180.9" text-anchor="middle" style="font-size:6.6px">Non-basal</text>
<text x="250.5" y="10.2" textLength="17.5" lengthAdjust="spacingAndGlyphs" style="font-size:6.6px;font-weight:bold;font-style:italic;fill:#111;stroke:none">PDL2</text>
<text x="223.7" y="33.4" textLength="63.8" lengthAdjust="spacing" style="font-size:6.6px">Wilcoxon, <tspan font-style="italic">P</tspan> = 0.0017</text>
<text transform="translate(175.9 101.0) rotate(-90)" text-anchor="middle" style="font-size:6.6px"><tspan font-style="italic">PDL2</tspan> score</text>
<path d="M380.8 28.1V169.6H517" fill="none" stroke="#9c9c9c" stroke-width="1.05"/>
<path d="M378.8 46.0H380.8M378.8 81.5H380.8M378.8 117.0H380.8M378.8 152.5H380.8M417.8 169.6V171.6M480.6 169.6V171.6" stroke="#9c9c9c" stroke-width="0.8"/>
<text x="377.6" y="48.3" text-anchor="end" style="font-size:6.6px">0</text>
<text x="377.6" y="83.8" text-anchor="end" style="font-size:6.6px">−2</text>
<text x="377.6" y="119.3" text-anchor="end" style="font-size:6.6px">−4</text>
<text x="377.6" y="154.8" text-anchor="end" style="font-size:6.6px">−6</text>
<path d="M417.8 50.2V99.7M417.8 126.2V162" stroke="#d8a084" stroke-width="0.75"/>
<path d="M430.0 100.1h0M409.6 109.1h0M415.5 125.5h0M422.4 104.8h0M417.7 115.8h0M429.7 101.4h0M418.0 132.4h0M427.1 114.8h0M405.6 110.6h0M419.7 101.5h0M429.1 121.9h0M424.2 98.9h0M428.6 111.5h0M418.8 75.0h0M409.2 106.7h0M419.2 99.2h0M415.7 110.3h0M424.1 125.2h0M417.9 96.8h0M427.8 120.0h0M423.3 103.3h0M418.0 124.1h0M411.5 68.5h0M415.0 121.8h0M410.3 97.5h0M428.4 147.8h0M420.8 74.9h0M420.6 88.5h0M418.1 109.6h0M423.5 118.5h0M417.0 128.4h0M407.1 121.0h0M411.0 100.2h0M429.9 104.5h0M421.2 67.1h0M408.4 90.2h0M429.0 114.2h0M405.8 98.7h0M411.6 91.0h0M417.1 92.4h0M418.3 102.1h0M423.9 114.0h0M429.1 100.3h0M410.4 96.3h0M419.0 145.5h0M416.0 117.6h0M429.0 131.1h0M429.2 124.0h0M406.7 104.9h0M427.0 143.0h0M423.1 134.3h0M428.0 107.3h0M416.1 92.5h0M412.1 134.2h0M413.4 72.0h0M424.6 97.2h0M430.4 115.2h0M407.7 84.7h0M427.6 132.1h0M419.6 68.1h0M412.9 109.1h0M410.4 126.5h0M405.4 112.5h0M411.5 86.7h0M408.4 135.6h0M406.7 128.2h0M419.5 106.2h0M427.6 132.8h0M412.7 135.4h0M418.3 121.0h0M412.3 97.4h0M427.7 142.0h0M416.1 110.6h0M416.7 109.3h0M414.3 79.3h0M419.1 85.2h0M427.6 54.6h0M421.5 126.4h0M411.6 122.0h0M427.4 113.3h0M428.7 103.3h0M429.8 95.3h0M424.9 114.3h0M421.8 117.1h0M405.2 79.1h0M423.8 130.0h0M427.5 152.3h0M410.4 138.4h0M405.8 131.2h0M427.0 108.8h0M415.1 109.5h0M408.0 134.7h0M419.0 141.6h0M428.4 99.5h0M410.6 102.0h0M423.9 117.1h0M412.8 94.6h0M425.1 122.7h0M407.1 82.4h0M405.4 54.3h0M427.6 97.1h0M420.6 89.8h0M408.3 89.5h0M430.4 125.4h0M415.9 151.5h0M414.0 140.2h0M414.7 130.0h0M426.8 160.8h0M417.1 130.0h0M422.2 133.1h0M424.0 146.1h0M424.7 127.2h0M418.4 103.8h0M416.8 133.6h0M427.1 142.7h0M422.9 89.0h0M409.0 113.7h0M428.4 127.3h0M426.6 67.9h0M406.7 119.4h0M417.0 102.4h0M414.2 114.5h0M409.8 142.1h0M413.4 146.5h0M421.8 89.6h0M412.2 98.5h0M414.6 68.4h0M424.3 85.6h0M421.3 78.1h0M418.0 135.5h0M429.3 130.2h0M418.8 132.2h0M419.1 107.3h0M408.0 108.4h0M407.1 130.4h0M407.2 85.6h0M415.6 91.6h0M429.4 57.6h0M416.5 111.6h0M422.7 109.6h0M416.6 90.8h0M410.9 69.7h0M427.6 118.3h0M406.0 106.1h0M409.5 59.5h0M426.8 82.9h0M417.8 137.1h0M421.3 105.7h0M430.0 128.9h0M410.0 125.8h0M424.1 98.4h0M428.6 64.9h0M422.5 92.3h0M422.2 129.7h0M424.9 68.4h0M411.7 105.6h0M408.7 67.1h0M412.5 132.2h0M419.0 84.9h0M408.9 113.2h0M422.0 119.5h0M406.8 69.5h0M426.3 120.1h0M430.3 113.8h0M424.3 110.6h0M426.3 52.6h0M428.8 144.0h0M427.7 140.3h0M417.8 73.2h0M424.5 112.2h0M409.4 112.4h0M416.9 138.8h0M414.2 132.3h0M430.5 120.0h0M424.8 129.8h0M411.4 112.8h0M418.4 55.1h0M411.9 120.7h0M417.5 68.2h0M409.4 126.0h0M409.5 102.3h0M429.7 123.3h0M406.9 80.1h0M412.0 126.7h0M411.3 111.4h0M416.2 106.5h0M410.3 136.8h0M419.4 109.1h0M413.4 98.6h0M413.1 83.3h0M410.9 126.8h0M426.7 83.1h0M412.4 134.7h0M409.5 142.7h0M410.5 52.2h0M408.0 123.8h0M405.8 124.2h0M406.5 110.3h0M426.1 119.1h0M421.5 135.9h0M405.3 129.5h0M406.1 161.0h0M416.4 116.0h0M409.1 73.2h0M411.9 90.2h0M416.8 127.4h0M425.1 105.5h0M406.9 135.0h0M427.2 124.0h0M406.6 65.1h0M422.9 126.9h0M409.9 115.5h0M409.5 136.9h0M426.5 127.3h0M423.1 148.6h0M417.7 122.0h0M426.4 90.2h0M421.9 134.0h0M423.4 111.9h0M409.5 93.3h0M425.1 119.5h0M407.5 141.3h0M430.1 73.4h0M405.2 139.5h0M419.1 112.1h0M408.9 101.0h0M412.2 76.5h0M411.9 110.4h0M428.3 62.3h0M408.3 98.7h0M425.1 159.2h0M423.0 104.0h0M406.7 113.3h0M417.3 82.5h0M408.3 96.5h0M421.6 56.7h0M425.6 105.0h0M406.2 79.2h0M417.5 103.2h0M418.0 79.5h0M427.3 108.9h0M416.4 127.4h0M429.2 139.4h0M428.1 109.8h0M414.4 144.8h0M418.3 123.8h0M417.2 124.5h0M425.9 127.0h0M409.8 141.1h0M430.5 54.9h0M427.1 105.5h0M427.2 83.7h0M429.1 123.4h0M422.6 117.9h0M418.2 89.9h0M408.8 109.8h0M417.1 76.4h0M419.1 56.7h0M425.6 77.3h0M421.8 103.5h0M424.0 157.7h0M411.6 52.8h0M411.0 64.4h0M424.1 105.7h0M416.8 115.6h0M415.1 123.2h0M406.3 105.3h0M410.7 122.2h0M418.3 122.0h0M411.5 124.3h0M416.0 96.0h0M419.0 107.8h0M425.7 115.6h0M424.6 100.5h0M423.0 126.9h0M423.7 123.7h0M409.0 110.7h0M406.8 102.2h0M407.2 112.4h0M427.8 131.5h0M416.3 116.3h0M425.4 116.8h0M418.2 110.7h0M425.9 128.7h0M405.0 128.7h0M418.0 63.4h0M427.4 133.9h0M419.8 79.4h0M412.4 63.8h0M429.8 74.1h0M430.6 114.4h0M430.1 123.2h0M429.8 149.1h0M417.1 122.0h0M427.8 94.4h0M422.9 86.8h0M429.4 99.3h0M428.0 127.0h0M424.8 121.6h0M409.4 68.9h0M430.0 113.7h0M412.2 107.8h0M409.9 159.4h0M410.1 144.5h0M414.8 108.7h0M427.2 71.5h0M409.3 103.9h0M405.2 105.4h0M411.6 81.7h0M420.6 128.9h0M428.9 115.5h0M419.3 112.3h0M424.0 108.7h0M415.7 105.6h0M428.8 102.3h0M416.0 135.5h0M419.4 100.8h0M412.2 111.2h0M407.7 124.5h0M421.4 124.7h0M405.8 129.3h0M428.3 141.3h0M409.3 149.7h0M413.9 139.4h0M422.8 94.3h0M409.8 88.5h0M410.7 117.9h0M419.7 132.6h0M405.4 108.4h0M427.7 109.7h0M406.3 154.8h0M413.3 104.6h0M410.3 115.8h0M407.9 131.4h0M428.9 122.1h0M426.4 114.6h0M420.2 110.1h0M424.5 99.4h0M428.7 121.8h0M417.9 138.9h0M428.3 105.2h0M427.3 71.8h0M414.8 116.7h0M428.1 120.7h0M418.2 100.0h0M419.8 119.9h0M418.8 126.8h0M411.5 94.0h0M426.4 110.1h0M418.8 133.9h0M428.7 85.8h0M428.3 144.6h0M425.3 99.7h0M410.2 88.7h0M420.4 132.0h0M423.4 72.7h0M405.1 73.0h0M407.9 85.7h0M406.6 78.6h0M407.0 140.2h0M428.1 114.4h0M426.5 133.7h0M407.9 78.4h0M418.1 137.5h0M409.8 123.2h0M420.5 131.2h0M414.5 121.0h0M418.6 114.2h0M425.1 134.4h0M409.8 148.4h0M422.6 110.2h0M420.4 126.2h0M418.0 81.2h0M406.0 134.4h0M421.7 110.9h0M426.7 124.3h0M418.6 114.8h0M420.6 117.6h0M419.5 133.3h0M416.3 137.5h0M420.7 127.5h0M428.2 147.5h0M407.1 80.3h0M427.0 134.0h0M425.9 98.4h0M405.1 86.4h0M407.1 105.0h0M427.9 97.2h0M410.7 116.0h0M412.2 82.2h0M426.7 101.5h0M406.1 76.6h0M424.0 90.1h0M422.3 114.2h0M424.6 114.5h0M430.4 120.1h0M415.8 148.4h0M407.0 108.3h0M427.6 90.3h0M420.3 112.5h0M413.6 111.0h0M421.4 104.9h0M416.2 74.6h0M423.4 63.3h0M424.8 95.7h0M405.0 91.8h0M420.1 104.9h0M427.1 59.9h0M427.1 120.1h0M418.2 73.3h0M417.0 112.4h0M416.1 136.5h0M411.5 125.0h0M408.0 104.3h0M414.8 111.0h0M412.5 135.1h0M422.1 116.4h0M411.9 135.9h0M427.9 124.1h0M406.9 98.9h0M428.3 85.9h0M410.6 136.0h0M421.6 141.3h0M419.5 156.1h0M420.4 115.6h0M419.2 79.1h0M410.2 156.4h0M428.3 124.3h0M414.5 152.0h0M420.1 102.6h0M421.6 126.7h0M411.9 141.4h0M412.7 63.4h0M418.9 126.4h0M411.3 101.1h0M414.9 80.6h0M413.3 126.1h0M424.7 64.3h0M405.1 143.0h0M422.1 141.5h0M419.9 105.8h0M412.2 143.3h0M408.7 143.2h0M408.0 64.7h0M415.2 133.9h0M406.5 110.9h0M406.0 71.2h0M419.2 102.4h0M428.6 142.6h0M412.8 114.2h0M415.1 124.5h0M429.8 122.9h0M424.9 94.0h0M413.1 131.3h0M419.5 99.6h0M410.4 134.2h0M407.0 135.2h0M417.7 67.2h0M407.6 87.1h0M414.5 106.1h0M412.1 90.2h0M407.0 109.3h0M409.5 147.4h0M417.9 136.6h0M409.9 98.9h0M413.7 84.5h0M429.6 88.3h0M413.5 110.9h0M408.8 130.0h0M423.0 151.1h0M424.4 153.2h0M428.5 136.4h0M423.2 121.9h0M424.4 131.6h0M420.4 122.0h0M408.9 109.7h0M425.2 71.7h0M425.0 153.4h0M408.8 128.9h0M417.3 72.6h0M409.0 68.9h0M415.6 73.5h0M409.6 87.5h0M412.6 94.8h0M409.2 59.5h0M424.5 148.2h0M414.0 97.2h0M423.1 122.5h0M420.3 98.6h0M407.6 97.7h0M412.1 124.6h0M430.6 84.7h0M420.2 126.1h0M419.1 110.8h0M420.0 86.6h0M413.3 133.8h0M426.9 96.8h0M418.5 73.3h0M416.5 77.7h0M428.7 98.0h0M425.6 151.8h0M423.6 136.1h0M428.8 123.1h0M418.6 138.2h0M421.0 70.9h0M420.8 65.6h0M405.7 118.3h0M428.4 84.5h0M417.1 139.4h0M417.4 126.4h0M406.6 109.9h0M421.5 82.5h0M416.4 123.7h0M414.4 93.1h0M408.3 130.6h0M419.0 118.2h0M429.0 134.7h0M410.3 112.5h0M411.8 85.8h0M407.7 80.4h0M425.6 111.7h0M421.8 151.1h0M408.5 152.8h0M407.7 65.8h0M419.6 146.1h0M421.3 89.9h0M415.8 154.4h0M421.1 129.2h0M410.9 81.2h0M420.1 112.2h0M424.2 116.3h0M411.5 121.4h0M415.8 150.7h0M414.5 93.3h0M420.9 133.0h0M419.0 128.2h0M409.6 131.8h0M410.3 105.0h0M422.0 76.0h0M410.0 140.3h0M416.4 42.5h0" stroke="#d8662e" stroke-opacity="0.62" stroke-width="1.7" stroke-linecap="round"/>
<path d="M430.0 100.1h0M415.5 125.5h0M417.7 115.8h0M418.0 132.4h0M405.6 110.6h0M429.1 121.9h0M428.6 111.5h0M409.2 106.7h0M415.7 110.3h0M417.9 96.8h0M423.3 103.3h0M411.5 68.5h0M410.3 97.5h0M420.8 74.9h0M418.1 109.6h0M417.0 128.4h0M411.0 100.2h0M421.2 67.1h0M429.0 114.2h0M411.6 91.0h0M418.3 102.1h0M429.1 100.3h0M419.0 145.5h0M429.0 131.1h0M406.7 104.9h0M423.1 134.3h0M416.1 92.5h0M413.4 72.0h0M430.4 115.2h0M427.6 132.1h0M412.9 109.1h0M405.4 112.5h0M408.4 135.6h0M419.5 106.2h0M412.7 135.4h0M412.3 97.4h0M416.1 110.6h0M414.3 79.3h0M427.6 54.6h0M411.6 122.0h0M428.7 103.3h0M424.9 114.3h0M405.2 79.1h0M427.5 152.3h0M405.8 131.2h0M415.1 109.5h0M419.0 141.6h0M410.6 102.0h0M412.8 94.6h0M407.1 82.4h0M427.6 97.1h0M408.3 89.5h0M415.9 151.5h0M414.7 130.0h0M417.1 130.0h0M424.0 146.1h0M418.4 103.8h0M427.1 142.7h0M409.0 113.7h0M426.6 67.9h0M417.0 102.4h0M409.8 142.1h0M421.8 89.6h0M414.6 68.4h0M421.3 78.1h0M429.3 130.2h0M419.1 107.3h0M407.1 130.4h0M415.6 91.6h0M416.5 111.6h0M416.6 90.8h0M427.6 118.3h0M409.5 59.5h0M417.8 137.1h0M430.0 128.9h0M424.1 98.4h0M422.5 92.3h0M424.9 68.4h0M408.7 67.1h0M419.0 84.9h0M422.0 119.5h0M426.3 120.1h0M424.3 110.6h0M428.8 144.0h0M417.8 73.2h0M409.4 112.4h0M414.2 132.3h0M424.8 129.8h0M418.4 55.1h0M417.5 68.2h0M409.5 102.3h0M406.9 80.1h0M411.3 111.4h0M410.3 136.8h0M413.4 98.6h0M410.9 126.8h0M412.4 134.7h0M410.5 52.2h0M405.8 124.2h0M426.1 119.1h0M405.3 129.5h0M416.4 116.0h0M411.9 90.2h0M425.1 105.5h0M427.2 124.0h0M422.9 126.9h0M409.5 136.9h0M423.1 148.6h0M426.4 90.2h0M423.4 111.9h0M425.1 119.5h0M430.1 73.4h0M419.1 112.1h0M412.2 76.5h0M428.3 62.3h0M425.1 159.2h0M406.7 113.3h0M408.3 96.5h0M425.6 105.0h0M417.5 103.2h0M427.3 108.9h0M429.2 139.4h0M414.4 144.8h0M417.2 124.5h0M409.8 141.1h0M427.1 105.5h0M429.1 123.4h0M418.2 89.9h0M417.1 76.4h0M425.6 77.3h0M424.0 157.7h0M411.0 64.4h0M416.8 115.6h0M406.3 105.3h0M418.3 122.0h0M416.0 96.0h0M425.7 115.6h0M423.0 126.9h0M409.0 110.7h0M407.2 112.4h0M416.3 116.3h0M418.2 110.7h0M405.0 128.7h0M427.4 133.9h0M412.4 63.8h0M430.6 114.4h0M429.8 149.1h0M427.8 94.4h0M429.4 99.3h0M424.8 121.6h0M430.0 113.7h0M409.9 159.4h0M414.8 108.7h0M409.3 103.9h0M411.6 81.7h0M428.9 115.5h0M424.0 108.7h0M428.8 102.3h0M419.4 100.8h0M407.7 124.5h0M405.8 129.3h0M409.3 149.7h0M422.8 94.3h0M410.7 117.9h0M405.4 108.4h0M406.3 154.8h0M410.3 115.8h0M428.9 122.1h0M420.2 110.1h0M428.7 121.8h0M428.3 105.2h0M414.8 116.7h0M418.2 100.0h0M418.8 126.8h0M426.4 110.1h0M428.7 85.8h0M425.3 99.7h0M420.4 132.0h0M405.1 73.0h0M406.6 78.6h0M428.1 114.4h0M407.9 78.4h0M409.8 123.2h0M414.5 121.0h0M425.1 134.4h0M422.6 110.2h0M418.0 81.2h0M421.7 110.9h0M418.6 114.8h0M419.5 133.3h0M420.7 127.5h0M407.1 80.3h0M425.9 98.4h0M407.1 105.0h0M410.7 116.0h0M426.7 101.5h0M424.0 90.1h0M424.6 114.5h0M415.8 148.4h0M427.6 90.3h0M413.6 111.0h0M416.2 74.6h0M424.8 95.7h0M420.1 104.9h0M427.1 120.1h0M417.0 112.4h0M411.5 125.0h0M414.8 111.0h0M422.1 116.4h0M427.9 124.1h0M428.3 85.9h0M421.6 141.3h0M420.4 115.6h0M410.2 156.4h0M414.5 152.0h0M421.6 126.7h0M412.7 63.4h0M411.3 101.1h0M413.3 126.1h0M405.1 143.0h0M419.9 105.8h0M408.7 143.2h0M415.2 133.9h0M406.0 71.2h0M428.6 142.6h0M415.1 124.5h0M424.9 94.0h0M419.5 99.6h0M407.0 135.2h0M407.6 87.1h0M412.1 90.2h0M409.5 147.4h0M409.9 98.9h0M429.6 88.3h0M408.8 130.0h0M424.4 153.2h0M423.2 121.9h0M420.4 122.0h0M425.2 71.7h0M408.8 128.9h0M409.0 68.9h0M409.6 87.5h0M409.2 59.5h0M414.0 97.2h0M420.3 98.6h0M412.1 124.6h0M420.2 126.1h0M420.0 86.6h0M426.9 96.8h0M416.5 77.7h0M425.6 151.8h0M428.8 123.1h0M421.0 70.9h0M405.7 118.3h0M417.1 139.4h0M406.6 109.9h0M416.4 123.7h0M408.3 130.6h0M429.0 134.7h0M411.8 85.8h0M425.6 111.7h0M408.5 152.8h0M419.6 146.1h0M415.8 154.4h0M410.9 81.2h0M424.2 116.3h0M415.8 150.7h0M420.9 133.0h0M409.6 131.8h0M422.0 76.0h0M416.4 42.5h0" stroke="#a04e24" stroke-opacity="0.5" stroke-width="0.9" stroke-linecap="round"/>
<rect x="394.8" y="99.7" width="46.8" height="26.5" fill="none" stroke="#d8a084" stroke-width="0.8"/>
<path d="M394.8 114.2H441.6" stroke="#d07850" stroke-width="1.4"/>
<path d="M480.6 55V81.1M480.6 110.9V154.5" stroke="#86c0c0" stroke-width="0.75"/>
<path d="M474.1 82.7h0M489.8 80.2h0M471.4 126.0h0M475.0 120.1h0M486.5 140.0h0M491.4 86.2h0M483.2 110.4h0M471.0 121.1h0M485.2 103.3h0M472.9 103.1h0M479.2 131.7h0M476.7 65.8h0M470.5 81.7h0M490.5 105.8h0M470.3 85.9h0M484.9 117.3h0M484.4 107.8h0M491.2 125.6h0M482.4 96.8h0M482.8 68.9h0M467.8 89.1h0M478.3 98.8h0M483.2 75.7h0M481.2 56.7h0M471.1 90.8h0M471.6 114.9h0M479.6 98.9h0M492.1 104.5h0M488.4 78.2h0M480.3 99.5h0M476.5 66.0h0M490.7 54.3h0M491.8 84.7h0M485.3 90.7h0M480.8 114.4h0M488.3 81.1h0M478.3 90.5h0M481.3 106.0h0M487.1 100.0h0M479.5 102.5h0M482.9 89.4h0M481.5 98.0h0M476.0 76.8h0M487.5 130.6h0M475.3 102.5h0M487.9 80.5h0M478.8 117.7h0M468.2 118.6h0M480.5 106.8h0M478.8 79.6h0M475.8 85.3h0M480.5 96.5h0M475.0 87.6h0M475.0 116.8h0M482.5 76.4h0M488.0 100.6h0M477.6 112.1h0M486.1 130.0h0M491.5 59.0h0M491.7 75.9h0M471.8 97.3h0M470.8 77.8h0M477.7 126.7h0M474.9 89.9h0M478.5 79.1h0M476.8 101.4h0M492.1 115.3h0M473.1 90.5h0M475.2 136.7h0M485.8 139.6h0M492.0 93.7h0M471.2 140.8h0M492.0 110.0h0M469.2 87.1h0M471.0 103.3h0M488.8 124.7h0M484.1 98.3h0M474.1 95.1h0M484.0 69.0h0M470.0 80.9h0M472.8 89.0h0M492.2 124.8h0M480.6 95.4h0M490.1 106.4h0M473.2 66.0h0M490.8 105.7h0M478.2 75.1h0M480.4 86.1h0M491.5 94.7h0M490.1 76.7h0M477.5 84.6h0M483.6 92.3h0M491.2 111.2h0M473.6 96.3h0M486.3 82.0h0M478.7 96.4h0M490.2 110.0h0M480.1 70.5h0M470.0 88.4h0M474.6 81.6h0M486.3 75.3h0M488.8 119.5h0M469.3 130.5h0M479.3 113.2h0M487.2 99.5h0M480.4 64.2h0M477.9 96.0h0M488.6 147.0h0M478.7 64.3h0M480.8 145.9h0" stroke="#4aa3a3" stroke-opacity="0.72" stroke-width="1.6" stroke-linecap="round"/>
<rect x="457.4" y="81.1" width="47.2" height="29.8" fill="none" stroke="#86c0c0" stroke-width="0.8"/>
<path d="M457.4 96.4H504.6" stroke="#55a6a6" stroke-width="1.4"/>
<text x="420.1" y="180.9" text-anchor="middle" style="font-size:6.6px">Basal</text>
<text x="481.1" y="180.9" text-anchor="middle" style="font-size:6.6px">Non-basal</text>
<text x="425.09999999999997" y="10.5" textLength="31.5" lengthAdjust="spacingAndGlyphs" style="font-size:6.6px;font-weight:bold;fill:#111;stroke:none">Mast cells</text>
<text x="412.09999999999997" y="33.4" textLength="63.5" lengthAdjust="spacing" style="font-size:6.6px">Wilcoxon, <tspan font-style="italic">P</tspan> &lt; 0.0001</text>
<text transform="translate(363.3 98.9) rotate(-90)" text-anchor="middle" style="font-size:6.6px">Mast cells score</text>
<path d="M23.8 218.2V360.4H161" fill="none" stroke="#9c9c9c" stroke-width="1.05"/>
<path d="M21.8 234.7H23.8M21.8 266.4H23.8M21.8 298.1H23.8M21.8 329.8H23.8M61.2 360.4V362.4M123.8 360.4V362.4" stroke="#9c9c9c" stroke-width="0.8"/>
<text x="20.6" y="237.0" text-anchor="end" style="font-size:6.6px">2</text>
<text x="20.6" y="268.7" text-anchor="end" style="font-size:6.6px">0</text>
<text x="20.6" y="300.40000000000003" text-anchor="end" style="font-size:6.6px">−2</text>
<text x="20.6" y="332.1" text-anchor="end" style="font-size:6.6px">−4</text>
<path d="M61.2 236.4V273.8M61.2 300.5V341.1" stroke="#d8a084" stroke-width="0.75"/>
<path d="M66.9 320.6h0M62.5 262.8h0M70.7 301.2h0M54.2 321.6h0M56.4 279.5h0M66.5 323.0h0M52.7 297.1h0M51.6 327.0h0M60.2 328.1h0M58.4 309.5h0M50.8 287.5h0M67.9 274.3h0M54.6 307.5h0M55.0 298.3h0M65.6 285.8h0M66.6 282.3h0M48.6 321.4h0M50.6 298.5h0M66.4 321.9h0M51.8 299.6h0M50.5 281.9h0M61.3 335.1h0M59.7 313.6h0M53.6 310.0h0M66.1 277.2h0M54.6 296.8h0M64.2 274.2h0M56.0 265.0h0M51.8 330.1h0M70.2 320.4h0M49.1 297.2h0M50.0 265.9h0M61.1 293.0h0M68.9 252.7h0M59.3 301.8h0M58.1 331.3h0M52.2 262.0h0M73.6 314.4h0M57.7 270.4h0M73.6 318.4h0M56.7 262.5h0M62.2 259.0h0M66.7 298.6h0M53.7 264.8h0M60.3 314.2h0M54.2 316.7h0M67.0 290.8h0M49.7 323.1h0M70.1 275.9h0M57.7 292.0h0M70.1 293.8h0M59.8 267.6h0M61.5 241.2h0M66.3 271.2h0M69.4 315.1h0M48.4 305.0h0M55.1 261.0h0M53.4 324.8h0M58.1 294.7h0M68.3 253.4h0M73.0 296.8h0M71.1 255.6h0M63.2 324.4h0M69.4 312.0h0M67.8 299.9h0M57.1 329.4h0M55.7 288.9h0M51.3 288.5h0M56.3 293.5h0M60.1 306.2h0M52.9 282.2h0M50.0 272.2h0M67.6 262.1h0M61.5 279.1h0M70.3 266.6h0M69.6 274.6h0M50.0 271.9h0M68.8 242.6h0M64.2 336.0h0M71.3 254.9h0M72.9 262.4h0M53.8 277.4h0M64.4 290.7h0M49.0 251.2h0M68.5 272.2h0M49.5 288.5h0M69.9 275.1h0M62.2 257.8h0M51.2 259.3h0M55.2 287.4h0M55.9 311.3h0M73.1 289.0h0M72.7 272.2h0M60.6 291.6h0M72.1 269.2h0M59.2 268.0h0M69.0 317.7h0M71.4 263.3h0M49.6 285.9h0M71.9 297.5h0M67.9 243.4h0M73.3 301.6h0M65.2 248.0h0M63.8 269.0h0M71.9 263.4h0M59.7 320.6h0M55.6 243.2h0M67.5 292.6h0M60.8 320.9h0M71.1 280.5h0M64.3 271.4h0M69.0 293.3h0M71.2 286.1h0M65.1 291.2h0M67.1 302.2h0M60.2 300.1h0M63.6 240.1h0M58.9 252.7h0M59.9 251.3h0M69.1 246.9h0M48.7 312.8h0M65.4 269.1h0M66.9 244.2h0M58.9 275.8h0M71.8 272.5h0M70.0 297.0h0M49.1 247.6h0M64.3 250.5h0M58.9 293.0h0M71.3 272.2h0M60.2 244.4h0M60.0 277.4h0M54.6 267.5h0M67.0 258.6h0M57.5 291.2h0M70.7 293.3h0M51.0 281.5h0M73.6 291.0h0M50.4 244.0h0M50.1 257.6h0M68.0 303.8h0M57.0 272.5h0M68.8 255.1h0M61.5 262.5h0M67.9 290.6h0M66.6 271.7h0M60.0 262.2h0M61.1 292.9h0M66.5 316.0h0M70.3 291.2h0M72.8 247.5h0M55.5 262.2h0M52.0 318.2h0M59.8 250.9h0M60.2 295.1h0M59.7 337.0h0M53.8 264.5h0M61.8 240.8h0M53.8 281.1h0M49.1 305.6h0M58.3 288.6h0M55.0 263.7h0M51.6 267.5h0M65.4 254.5h0M55.7 323.9h0M57.8 296.3h0M60.0 248.1h0M58.1 310.4h0M68.1 258.8h0M68.6 259.0h0M71.4 317.9h0M60.8 251.8h0M51.1 300.5h0M72.0 316.2h0M59.4 282.4h0M61.0 329.8h0M59.5 320.3h0M52.6 289.6h0M53.2 279.8h0M64.8 274.8h0M60.0 326.3h0M71.2 314.6h0M56.7 339.6h0M48.5 314.9h0M69.5 287.2h0M73.7 286.8h0M59.3 276.4h0M62.5 306.5h0M56.6 292.9h0M63.9 278.4h0M54.3 288.8h0M62.0 245.6h0M57.0 314.0h0M68.8 272.5h0M59.5 292.4h0M65.3 310.5h0M48.7 260.4h0M58.3 311.7h0M50.3 339.6h0M60.2 296.7h0M51.9 304.9h0M52.4 274.2h0M73.7 269.9h0M50.4 323.9h0M52.6 275.3h0M51.2 309.3h0M58.5 249.7h0M53.2 293.8h0M54.1 256.8h0M61.4 280.1h0M50.8 243.9h0M61.3 314.4h0M70.7 292.0h0M57.6 285.6h0M66.4 262.7h0M50.5 288.0h0M70.1 303.6h0M55.3 285.2h0M73.8 333.1h0M63.9 268.0h0M68.0 314.5h0M65.4 266.3h0M53.4 242.4h0M49.0 254.8h0M67.3 295.6h0M73.0 306.4h0M59.3 283.4h0M67.4 285.3h0M59.8 262.9h0M71.4 236.1h0M54.0 318.8h0M54.4 280.2h0M49.7 272.9h0M64.4 310.7h0M73.3 334.8h0M60.8 328.0h0M54.8 242.1h0M53.1 243.4h0M69.8 242.2h0M70.6 281.5h0M49.5 254.4h0M63.3 325.6h0M71.5 290.7h0M66.2 321.7h0M56.9 291.3h0M57.7 281.8h0M72.3 263.8h0M64.1 288.3h0M49.6 334.2h0M70.6 313.6h0M55.5 288.1h0M48.8 295.4h0M65.5 293.2h0M49.6 285.9h0M49.0 258.8h0M53.1 286.3h0M57.2 272.2h0M65.9 266.5h0M65.0 301.8h0M54.5 244.5h0M65.5 247.5h0M62.4 315.5h0M59.4 304.6h0M63.3 274.9h0M61.2 250.6h0M73.0 317.4h0M61.2 313.3h0M56.3 254.3h0M48.9 287.0h0M56.1 342.7h0M57.1 279.1h0M64.5 266.9h0M69.4 333.1h0M64.7 335.7h0M65.3 300.6h0M58.9 277.0h0M71.1 275.7h0M56.7 319.6h0M69.1 290.3h0M68.2 269.6h0M65.8 295.3h0M51.1 302.4h0M55.8 258.0h0M49.8 250.7h0M50.8 247.0h0M52.4 269.0h0M65.9 298.2h0M55.6 260.7h0M50.7 281.9h0M54.2 242.0h0M57.0 257.7h0M58.2 269.0h0M57.0 330.6h0M50.4 298.1h0M62.5 308.9h0M60.6 271.0h0M56.0 248.6h0M71.5 269.1h0M65.4 297.6h0M63.9 284.1h0M60.4 330.9h0M50.3 252.2h0M62.7 328.9h0M51.0 328.9h0M73.6 286.8h0M54.7 273.6h0M67.8 294.4h0M50.2 277.0h0M51.8 339.1h0M57.4 289.8h0M73.4 259.2h0M67.3 288.8h0M68.5 314.3h0M61.3 269.0h0M71.6 315.1h0M58.3 249.0h0M56.4 255.0h0M67.4 294.7h0M71.0 280.1h0M56.9 289.5h0M59.9 261.4h0M49.0 271.9h0M51.2 259.9h0M72.0 290.9h0M64.7 298.7h0M64.3 252.0h0M67.7 263.1h0M62.3 273.9h0M48.7 307.8h0M57.3 306.4h0M71.7 335.9h0M73.1 263.9h0M48.6 304.5h0M62.9 278.2h0M52.1 312.1h0M56.1 301.7h0M51.7 318.4h0M52.7 311.5h0M70.8 285.0h0M49.5 299.8h0M52.6 275.7h0M59.8 309.5h0M70.4 241.9h0M61.2 311.4h0M63.0 274.9h0M50.7 273.1h0M52.9 279.3h0M66.8 325.6h0M55.5 300.8h0M56.2 255.8h0M73.6 271.1h0M60.0 271.5h0M68.0 293.9h0M70.8 276.6h0M60.3 290.5h0M55.1 255.6h0M55.8 275.9h0M63.9 271.6h0M55.1 326.9h0M58.5 254.8h0M53.2 257.1h0M54.5 284.5h0M51.2 288.9h0M51.7 267.7h0M52.9 283.9h0M62.3 265.6h0M56.8 272.3h0M60.3 301.9h0M67.5 257.2h0M59.4 246.1h0M62.7 326.1h0M73.2 278.0h0M48.7 261.2h0M59.3 334.0h0M54.8 275.2h0M69.3 255.3h0M51.4 262.1h0M64.6 289.1h0M57.5 316.1h0M66.9 294.8h0M65.7 260.1h0M72.9 281.5h0M51.2 325.9h0M49.6 332.6h0M56.1 274.1h0M70.0 256.0h0M70.6 256.8h0M57.1 237.7h0M71.8 276.0h0M49.6 285.8h0M73.3 286.1h0M57.4 332.0h0M60.5 278.8h0M63.1 326.4h0M56.3 333.6h0M69.7 280.7h0M72.8 294.0h0M65.4 247.9h0M49.9 278.7h0M59.9 247.3h0M60.0 253.9h0M55.0 278.8h0M66.4 310.0h0M62.4 248.3h0M51.0 326.0h0M57.5 276.4h0M50.0 282.7h0M53.4 244.2h0M52.1 280.6h0M55.5 298.2h0M53.7 311.5h0M49.6 251.0h0M58.4 268.9h0M59.7 289.4h0M73.4 285.2h0M60.6 262.5h0M73.6 259.7h0M69.3 329.0h0M69.3 310.7h0M71.9 326.1h0M71.2 274.2h0M61.9 321.3h0M71.7 332.8h0M71.6 284.4h0M56.4 238.4h0M53.5 293.7h0M48.5 243.5h0M53.1 280.9h0M53.8 283.1h0M73.3 284.6h0M49.9 281.2h0M63.6 312.5h0M72.8 255.1h0M60.1 315.6h0M68.5 258.6h0M54.5 295.9h0M66.8 268.6h0M68.2 280.9h0M71.0 339.8h0M65.7 274.8h0M53.6 282.2h0M72.1 326.3h0M55.2 250.5h0M51.3 242.4h0M56.4 238.0h0M61.5 295.6h0M69.9 328.3h0M54.2 261.5h0M73.6 276.3h0M55.7 316.7h0M73.3 314.3h0M71.3 334.6h0M56.2 245.5h0M53.8 261.2h0M61.9 287.2h0M51.0 341.0h0M73.0 253.0h0M74.0 323.2h0M53.0 240.8h0M58.6 272.4h0M67.8 299.7h0M52.7 296.2h0M73.8 280.5h0M62.8 305.1h0M59.1 305.9h0M55.9 302.5h0M51.2 250.1h0M49.0 260.6h0M56.0 304.7h0M71.6 281.0h0M71.4 320.8h0M62.4 238.1h0M73.4 240.6h0M70.5 273.3h0M69.4 276.4h0M52.1 243.9h0M49.1 261.7h0M70.0 300.0h0M63.9 326.5h0M67.9 244.0h0M52.1 342.2h0M63.7 252.1h0M63.2 298.1h0M59.6 266.4h0M71.9 326.5h0M59.6 321.3h0M60.0 300.5h0M71.3 269.0h0M65.7 278.1h0M57.7 261.9h0M50.6 339.0h0M51.2 249.9h0M59.9 280.1h0M49.2 242.6h0M62.3 301.5h0M60.3 272.4h0M60.9 259.8h0M50.3 301.4h0M55.9 272.8h0M67.5 240.4h0M49.9 329.1h0M49.3 299.2h0M68.5 284.6h0M66.5 320.8h0M49.3 327.2h0M60.9 268.2h0M52.3 257.1h0M71.9 280.4h0M51.9 323.3h0M61.5 271.1h0M72.9 321.1h0M72.1 269.3h0M72.1 287.0h0M65.4 340.7h0M58.7 245.9h0M65.1 317.7h0M56.3 324.8h0M67.3 243.0h0M73.8 239.4h0M66.7 274.5h0M69.0 257.2h0M61.5 310.9h0M69.6 310.8h0M64.6 279.7h0M63.5 297.4h0M49.9 291.6h0M52.6 277.2h0M65.1 277.7h0M58.0 250.9h0M71.7 303.3h0M52.9 298.9h0M49.1 242.3h0M70.7 293.5h0M48.8 304.4h0M65.6 332.9h0M54.9 296.9h0M60.5 248.5h0M69.8 268.4h0M57.9 261.1h0M52.5 312.7h0M66.6 230.5h0M56.7 232.0h0M59.1 349.0h0M66.8 355.0h0" stroke="#d8662e" stroke-opacity="0.62" stroke-width="1.7" stroke-linecap="round"/>
<path d="M66.9 320.6h0M70.7 301.2h0M56.4 279.5h0M52.7 297.1h0M60.2 328.1h0M50.8 287.5h0M54.6 307.5h0M65.6 285.8h0M48.6 321.4h0M66.4 321.9h0M50.5 281.9h0M59.7 313.6h0M66.1 277.2h0M64.2 274.2h0M51.8 330.1h0M49.1 297.2h0M61.1 293.0h0M59.3 301.8h0M52.2 262.0h0M57.7 270.4h0M56.7 262.5h0M66.7 298.6h0M60.3 314.2h0M67.0 290.8h0M70.1 275.9h0M70.1 293.8h0M61.5 241.2h0M69.4 315.1h0M55.1 261.0h0M58.1 294.7h0M73.0 296.8h0M63.2 324.4h0M67.8 299.9h0M55.7 288.9h0M56.3 293.5h0M52.9 282.2h0M67.6 262.1h0M70.3 266.6h0M50.0 271.9h0M64.2 336.0h0M72.9 262.4h0M64.4 290.7h0M68.5 272.2h0M69.9 275.1h0M51.2 259.3h0M55.9 311.3h0M72.7 272.2h0M72.1 269.2h0M69.0 317.7h0M49.6 285.9h0M67.9 243.4h0M65.2 248.0h0M71.9 263.4h0M55.6 243.2h0M60.8 320.9h0M64.3 271.4h0M71.2 286.1h0M67.1 302.2h0M63.6 240.1h0M59.9 251.3h0M48.7 312.8h0M66.9 244.2h0M71.8 272.5h0M49.1 247.6h0M58.9 293.0h0M60.2 244.4h0M54.6 267.5h0M57.5 291.2h0M51.0 281.5h0M50.4 244.0h0M68.0 303.8h0M68.8 255.1h0M67.9 290.6h0M60.0 262.2h0M66.5 316.0h0M72.8 247.5h0M52.0 318.2h0M60.2 295.1h0M53.8 264.5h0M53.8 281.1h0M58.3 288.6h0M51.6 267.5h0M55.7 323.9h0M60.0 248.1h0M68.1 258.8h0M71.4 317.9h0M51.1 300.5h0M59.4 282.4h0M59.5 320.3h0M53.2 279.8h0M60.0 326.3h0M56.7 339.6h0M69.5 287.2h0M59.3 276.4h0M56.6 292.9h0M54.3 288.8h0M57.0 314.0h0M59.5 292.4h0M48.7 260.4h0M50.3 339.6h0M51.9 304.9h0M73.7 269.9h0M52.6 275.3h0M58.5 249.7h0M54.1 256.8h0M50.8 243.9h0M70.7 292.0h0M66.4 262.7h0M70.1 303.6h0M73.8 333.1h0M68.0 314.5h0M53.4 242.4h0M67.3 295.6h0M59.3 283.4h0M59.8 262.9h0M54.0 318.8h0M49.7 272.9h0M73.3 334.8h0M54.8 242.1h0M69.8 242.2h0M49.5 254.4h0M71.5 290.7h0M56.9 291.3h0M72.3 263.8h0M49.6 334.2h0M55.5 288.1h0M65.5 293.2h0M49.0 258.8h0M57.2 272.2h0M65.0 301.8h0M65.5 247.5h0M59.4 304.6h0M61.2 250.6h0M61.2 313.3h0M48.9 287.0h0M57.1 279.1h0M69.4 333.1h0M65.3 300.6h0M71.1 275.7h0M69.1 290.3h0M65.8 295.3h0M55.8 258.0h0M50.8 247.0h0M65.9 298.2h0M50.7 281.9h0M57.0 257.7h0M57.0 330.6h0M62.5 308.9h0M56.0 248.6h0M65.4 297.6h0M60.4 330.9h0M62.7 328.9h0M73.6 286.8h0M67.8 294.4h0M51.8 339.1h0M73.4 259.2h0M68.5 314.3h0M71.6 315.1h0M56.4 255.0h0M71.0 280.1h0M59.9 261.4h0M51.2 259.9h0M64.7 298.7h0M67.7 263.1h0M48.7 307.8h0M71.7 335.9h0M48.6 304.5h0M52.1 312.1h0M51.7 318.4h0M70.8 285.0h0M52.6 275.7h0M70.4 241.9h0M63.0 274.9h0M52.9 279.3h0M55.5 300.8h0M73.6 271.1h0M68.0 293.9h0M60.3 290.5h0M55.8 275.9h0M55.1 326.9h0M53.2 257.1h0M51.2 288.9h0M52.9 283.9h0M56.8 272.3h0M67.5 257.2h0M62.7 326.1h0M48.7 261.2h0M54.8 275.2h0M51.4 262.1h0M57.5 316.1h0M65.7 260.1h0M51.2 325.9h0M56.1 274.1h0M70.6 256.8h0M71.8 276.0h0M73.3 286.1h0M60.5 278.8h0M56.3 333.6h0M72.8 294.0h0M49.9 278.7h0M60.0 253.9h0M66.4 310.0h0M51.0 326.0h0M50.0 282.7h0M52.1 280.6h0M53.7 311.5h0M58.4 268.9h0M73.4 285.2h0M73.6 259.7h0M69.3 310.7h0M71.2 274.2h0M71.7 332.8h0M56.4 238.4h0M48.5 243.5h0M53.8 283.1h0M49.9 281.2h0M72.8 255.1h0M68.5 258.6h0M66.8 268.6h0M71.0 339.8h0M53.6 282.2h0M55.2 250.5h0M56.4 238.0h0M69.9 328.3h0M73.6 276.3h0M73.3 314.3h0M56.2 245.5h0M61.9 287.2h0M73.0 253.0h0M53.0 240.8h0M67.8 299.7h0M73.8 280.5h0M59.1 305.9h0M51.2 250.1h0M56.0 304.7h0M71.4 320.8h0M73.4 240.6h0M69.4 276.4h0M49.1 261.7h0M63.9 326.5h0M52.1 342.2h0M63.2 298.1h0M71.9 326.5h0M60.0 300.5h0M65.7 278.1h0M50.6 339.0h0M59.9 280.1h0M62.3 301.5h0M60.9 259.8h0M55.9 272.8h0M49.9 329.1h0M68.5 284.6h0M49.3 327.2h0M52.3 257.1h0M51.9 323.3h0M72.9 321.1h0M72.1 287.0h0M58.7 245.9h0M56.3 324.8h0M73.8 239.4h0M69.0 257.2h0M69.6 310.8h0M63.5 297.4h0M52.6 277.2h0M58.0 250.9h0M52.9 298.9h0M70.7 293.5h0M65.6 332.9h0M60.5 248.5h0M57.9 261.1h0M66.6 230.5h0M59.1 349.0h0" stroke="#a04e24" stroke-opacity="0.5" stroke-width="0.9" stroke-linecap="round"/>
<rect x="37.5" y="273.8" width="47.2" height="26.7" fill="none" stroke="#d8a084" stroke-width="0.8"/>
<path d="M37.5 287H84.7" stroke="#d07850" stroke-width="1.4"/>
<path d="M123.8 240.2V278.1M123.8 306.7V340.5" stroke="#86c0c0" stroke-width="0.75"/>
<path d="M121.7 277.0h0M114.1 284.5h0M130.3 265.9h0M119.4 278.2h0M121.3 245.6h0M123.8 299.0h0M114.6 322.1h0M118.3 262.3h0M126.4 262.1h0M115.6 275.7h0M132.2 273.8h0M114.2 266.9h0M128.4 295.9h0M124.5 278.9h0M132.8 331.6h0M118.9 307.6h0M130.2 280.4h0M124.5 308.8h0M121.6 300.0h0M113.3 281.0h0M126.0 284.1h0M119.4 321.8h0M114.6 316.1h0M120.9 268.3h0M131.6 283.2h0M124.2 267.3h0M133.7 274.1h0M133.6 262.7h0M130.9 297.1h0M134.2 266.4h0M136.4 297.0h0M113.8 303.0h0M131.0 254.3h0M125.7 278.9h0M120.6 291.0h0M111.6 285.6h0M121.1 301.2h0M124.9 326.4h0M134.4 290.9h0M111.5 302.4h0M115.7 259.8h0M114.0 291.4h0M135.9 306.7h0M111.2 326.7h0M120.1 249.0h0M121.2 282.7h0M111.7 307.1h0M115.4 281.6h0M132.6 275.1h0M116.9 268.2h0M119.9 281.6h0M111.1 293.9h0M116.3 319.6h0M116.4 319.2h0M130.2 284.9h0M116.5 249.9h0M120.6 250.2h0M121.1 265.1h0M122.0 287.4h0M115.1 261.4h0M111.9 278.5h0M128.6 281.7h0M125.4 298.5h0M120.3 322.7h0M128.6 313.9h0M131.6 257.1h0M130.0 316.4h0M133.0 295.6h0M115.5 291.7h0M118.0 334.1h0M134.9 295.8h0M122.6 308.4h0M132.1 306.0h0M118.5 305.2h0M135.6 279.4h0M131.2 306.5h0M121.4 269.0h0M112.9 259.0h0M116.9 287.8h0M116.1 255.7h0M120.0 281.5h0M125.6 294.8h0M117.5 293.1h0M126.0 277.7h0M114.6 274.8h0M132.0 302.9h0M123.5 263.1h0M128.0 307.0h0M120.5 311.2h0M114.3 303.2h0M135.4 304.6h0M131.4 293.9h0M117.8 292.9h0M136.4 266.3h0M116.6 291.2h0M121.5 330.4h0M125.4 282.3h0M128.0 294.5h0M125.6 284.6h0M134.9 274.6h0M117.4 292.4h0M125.0 293.9h0M127.7 324.8h0M127.0 282.3h0M112.8 316.9h0M122.5 328.7h0M130.9 280.1h0M125.3 291.5h0M116.5 287.3h0M136.5 276.3h0" stroke="#4aa3a3" stroke-opacity="0.72" stroke-width="1.6" stroke-linecap="round"/>
<rect x="100.3" y="278.1" width="47.2" height="28.6" fill="none" stroke="#86c0c0" stroke-width="0.8"/>
<path d="M100.3 291.6H147.5" stroke="#55a6a6" stroke-width="1.4"/>
<text x="62.8" y="370.8" text-anchor="middle" style="font-size:6.6px">Basal</text>
<text x="124.8" y="370.8" text-anchor="middle" style="font-size:6.6px">Non-basal</text>
<text x="58.2" y="212.7" textLength="35.9" lengthAdjust="spacingAndGlyphs" style="font-size:6.6px;font-weight:bold;fill:#111;stroke:none">CD8 T cells</text>
<text x="55.900000000000006" y="225.7" textLength="57.3" lengthAdjust="spacing" style="font-size:6.6px">Wilcoxon, <tspan font-style="italic">P</tspan> = 0.10</text>
<text transform="translate(7.1 289.8) rotate(-90)" text-anchor="middle" style="font-size:6.6px">CD8 T cells score</text>
<path d="M192.4 219.4V361.0H329.7" fill="none" stroke="#9c9c9c" stroke-width="1.05"/>
<path d="M190.4 245.0H192.4M190.4 282.2H192.4M190.4 319.4H192.4M190.4 356.6H192.4M230 361.0V363.0M292.5 361.0V363.0" stroke="#9c9c9c" stroke-width="0.8"/>
<text x="189.20000000000002" y="247.3" text-anchor="end" style="font-size:6.6px">0</text>
<text x="189.20000000000002" y="284.5" text-anchor="end" style="font-size:6.6px">−2</text>
<text x="189.20000000000002" y="321.7" text-anchor="end" style="font-size:6.6px">−4</text>
<text x="189.20000000000002" y="358.90000000000003" text-anchor="end" style="font-size:6.6px">−6</text>
<path d="M230 226.6V274.8M230 311.2V354.4" stroke="#d8a084" stroke-width="0.75"/>
<path d="M222.8 266.1h0M236.6 328.5h0M226.2 278.3h0M225.3 262.1h0M218.2 270.5h0M224.8 269.6h0M226.3 309.8h0M228.2 314.6h0M231.1 329.2h0M223.0 289.9h0M239.5 309.9h0M238.2 295.2h0M225.8 278.9h0M239.3 339.3h0M233.6 312.4h0M230.4 333.3h0M240.6 316.4h0M221.3 242.0h0M221.4 309.0h0M239.5 338.1h0M225.2 297.4h0M240.9 278.3h0M234.8 258.7h0M241.7 299.1h0M232.6 269.5h0M220.8 344.4h0M239.0 263.4h0M230.8 300.8h0M220.6 286.5h0M237.3 330.6h0M218.7 338.2h0M231.9 331.4h0M234.2 245.2h0M233.6 277.0h0M217.7 328.5h0M230.9 336.1h0M231.6 284.3h0M238.6 273.7h0M218.2 251.9h0M235.2 321.0h0M238.0 301.1h0M218.8 260.0h0M233.3 340.7h0M219.6 309.3h0M220.9 281.1h0M230.8 290.4h0M230.3 346.7h0M220.2 281.7h0M232.3 306.3h0M221.8 259.4h0M220.3 341.3h0M233.8 277.2h0M229.0 322.0h0M231.0 326.7h0M239.5 282.2h0M219.2 321.1h0M232.2 335.7h0M223.8 273.3h0M238.0 324.3h0M225.0 279.6h0M229.1 278.2h0M217.6 281.7h0M219.7 284.6h0M229.3 252.4h0M234.7 255.3h0M228.8 331.9h0M239.6 294.1h0M228.6 283.3h0M224.1 295.9h0M223.0 250.8h0M223.3 334.7h0M222.3 285.0h0M225.2 298.2h0M234.8 263.7h0M229.9 316.3h0M222.2 244.4h0M222.8 336.0h0M237.4 266.3h0M227.6 306.7h0M233.6 306.6h0M232.8 296.6h0M222.4 264.5h0M234.7 258.3h0M223.5 294.9h0M226.6 276.3h0M224.0 280.4h0M239.8 322.8h0M241.4 311.4h0M226.5 290.3h0M218.4 337.7h0M234.9 295.3h0M225.8 346.0h0M232.4 274.1h0M230.0 294.5h0M225.0 301.5h0M223.0 241.8h0M227.6 235.3h0M230.6 282.9h0M228.8 341.7h0M222.0 300.7h0M237.2 305.3h0M238.0 267.0h0M234.1 311.7h0M240.2 265.0h0M221.5 301.5h0M225.0 301.3h0M227.7 345.9h0M221.8 322.2h0M220.4 295.8h0M218.0 268.2h0M237.3 301.0h0M229.6 274.2h0M221.2 303.3h0M223.2 251.7h0M218.7 319.4h0M221.1 298.8h0M232.1 277.8h0M241.0 312.5h0M231.2 242.6h0M222.0 286.6h0M235.5 288.2h0M238.4 271.0h0M237.0 296.2h0M235.6 292.6h0M218.8 248.9h0M233.4 241.8h0M220.9 282.7h0M231.5 326.1h0M242.4 267.7h0M237.0 269.7h0M227.6 276.5h0M226.4 267.4h0M218.3 293.2h0M225.2 278.2h0M221.5 257.1h0M228.6 301.0h0M218.8 312.0h0M222.6 322.3h0M233.7 301.5h0M235.8 309.5h0M239.9 342.2h0M241.8 327.8h0M237.0 274.8h0M240.3 250.3h0M236.6 310.2h0M229.0 289.3h0M225.9 295.8h0M221.5 330.5h0M220.0 289.6h0M228.8 259.6h0M242.8 317.3h0M234.0 268.3h0M227.6 253.4h0M242.1 251.6h0M235.7 278.4h0M241.2 262.7h0M232.5 314.7h0M242.1 260.3h0M233.2 233.0h0M222.2 329.1h0M228.8 332.6h0M223.0 256.7h0M218.1 339.4h0M222.5 301.7h0M230.0 315.2h0M237.8 260.9h0M222.6 257.9h0M232.5 261.2h0M232.1 259.5h0M225.8 343.1h0M232.4 272.6h0M227.9 285.0h0M230.7 291.0h0M236.1 264.5h0M237.0 287.5h0M236.9 278.4h0M239.5 269.9h0M224.1 279.8h0M234.3 308.6h0M227.5 313.9h0M226.7 303.7h0M242.1 312.9h0M230.4 279.1h0M235.0 291.4h0M236.1 279.0h0M236.2 262.2h0M240.8 236.0h0M232.4 304.4h0M238.8 268.1h0M231.5 242.6h0M226.7 286.3h0M236.6 239.7h0M219.7 308.6h0M231.1 299.2h0M234.1 267.4h0M230.4 297.0h0M225.9 298.4h0M229.0 276.6h0M230.5 311.3h0M221.6 289.2h0M237.4 277.2h0M238.0 315.2h0M235.3 306.2h0M235.7 279.5h0M229.3 278.1h0M221.2 278.9h0M242.7 322.0h0M229.6 301.5h0M241.5 276.1h0M220.4 243.8h0M235.7 305.1h0M218.2 255.4h0M220.6 259.0h0M235.5 239.2h0M220.1 267.4h0M228.3 311.0h0M225.3 321.1h0M220.5 330.7h0M240.0 315.2h0M218.7 316.8h0M233.6 264.6h0M236.3 303.0h0M239.4 250.2h0M218.0 278.4h0M235.1 332.8h0M227.1 263.6h0M237.7 227.9h0M240.7 288.1h0M218.8 324.3h0M232.4 271.0h0M227.4 268.7h0M228.9 348.4h0M234.3 284.3h0M224.7 326.9h0M223.4 233.3h0M220.0 291.9h0M230.8 322.4h0M220.2 261.7h0M229.1 338.8h0M222.7 307.0h0M242.1 274.6h0M232.7 325.4h0M226.2 277.4h0M227.4 326.7h0M232.4 339.9h0M236.8 347.9h0M227.9 264.5h0M230.5 292.3h0M233.2 248.6h0M217.5 274.9h0M232.2 285.9h0M228.5 230.5h0M219.3 266.4h0M235.7 286.5h0M233.4 245.8h0M242.8 233.6h0M240.5 253.0h0M234.9 322.1h0M235.8 337.1h0M240.0 309.3h0M242.0 308.9h0M217.3 249.8h0M229.2 321.0h0M226.6 254.2h0M228.0 235.1h0M227.4 318.5h0M233.4 346.2h0M230.0 281.7h0M226.3 291.4h0M224.5 329.8h0M228.3 260.1h0M241.7 305.4h0M242.7 303.3h0M223.7 302.1h0M232.9 266.6h0M234.9 252.3h0M233.5 279.6h0M240.1 258.4h0M224.2 280.2h0M227.7 241.3h0M223.6 259.0h0M227.3 279.0h0M233.1 269.7h0M218.3 271.3h0M222.8 299.2h0M229.4 287.2h0M222.4 293.9h0M232.2 248.3h0M220.7 276.8h0M226.5 278.7h0M237.1 312.8h0M233.3 298.0h0M237.6 256.7h0M224.3 231.1h0M233.1 290.3h0M235.4 333.7h0M222.9 246.3h0M235.9 246.9h0M233.0 298.3h0M237.6 249.6h0M225.9 270.1h0M218.2 330.7h0M236.4 302.9h0M220.0 305.6h0M239.6 288.8h0M236.6 299.0h0M218.1 309.5h0M220.6 323.0h0M241.5 247.6h0M219.9 272.5h0M227.7 244.0h0M222.6 265.3h0M234.9 256.5h0M242.6 273.8h0M226.3 298.9h0M235.9 310.7h0M234.2 264.3h0M231.7 249.3h0M219.6 266.3h0M226.3 284.8h0M221.3 292.2h0M239.1 304.6h0M223.8 257.8h0M223.3 268.7h0M238.0 317.1h0M234.1 283.8h0M237.2 328.9h0M228.3 276.3h0M234.9 318.0h0M222.1 307.5h0M219.7 300.1h0M231.0 304.0h0M226.8 307.4h0M240.1 298.7h0M224.1 337.2h0M217.4 274.4h0M220.1 251.1h0M230.3 272.7h0M219.7 304.3h0M217.6 307.3h0M221.3 346.3h0M232.0 312.4h0M222.2 267.2h0M219.6 338.3h0M230.7 277.3h0M223.9 311.7h0M231.4 281.9h0M237.1 282.7h0M240.1 304.2h0M240.3 261.6h0M236.3 309.7h0M242.0 300.9h0M234.9 331.2h0M220.0 258.2h0M234.2 274.0h0M225.3 328.3h0M240.1 337.5h0M238.2 330.6h0M241.5 324.5h0M223.4 322.1h0M224.0 303.6h0M226.8 299.6h0M220.6 306.6h0M238.9 308.7h0M227.4 301.7h0M236.9 318.8h0M225.8 329.2h0M232.2 287.6h0M238.3 247.5h0M222.5 304.4h0M223.1 312.7h0M239.4 253.8h0M219.1 318.2h0M238.4 316.7h0M233.1 324.3h0M233.1 346.9h0M234.0 293.6h0M236.1 278.2h0M226.0 297.3h0M229.0 273.9h0M232.7 245.2h0M226.0 253.6h0M240.7 278.9h0M217.5 231.8h0M227.6 245.8h0M226.4 343.5h0M241.6 273.4h0M238.6 331.4h0M227.6 269.9h0M235.6 236.4h0M219.8 253.3h0M219.1 282.1h0M228.4 299.8h0M228.6 312.8h0M230.7 295.8h0M219.5 245.5h0M236.9 317.0h0M218.0 252.2h0M236.3 290.2h0M223.9 322.3h0M239.9 290.5h0M234.3 319.6h0M223.2 228.7h0M235.1 264.5h0M233.5 330.9h0M217.9 261.7h0M228.3 320.5h0M226.9 247.0h0M223.5 274.9h0M234.4 285.0h0M220.9 275.4h0M231.5 285.7h0M232.2 319.1h0M223.8 342.0h0M236.9 330.9h0M234.8 277.6h0M222.6 333.6h0M235.6 315.9h0M229.3 296.4h0M239.9 293.1h0M241.5 251.3h0M223.1 247.8h0M228.5 284.7h0M235.1 298.1h0M228.1 277.9h0M242.8 291.0h0M221.6 272.3h0M229.8 324.6h0M227.6 257.3h0M238.7 281.0h0M235.8 294.8h0M228.7 307.1h0M228.1 235.2h0M238.7 253.4h0M242.4 282.5h0M225.8 317.9h0M219.4 264.5h0M225.9 239.1h0M239.0 328.3h0M231.9 254.5h0M232.4 261.0h0M237.1 255.9h0M229.0 260.0h0M230.0 262.7h0M226.8 276.5h0M233.7 305.5h0M224.3 254.0h0M228.0 317.7h0M222.0 277.9h0M222.7 274.0h0M241.7 284.3h0M225.0 270.6h0M222.6 255.6h0M224.2 292.1h0M235.9 235.0h0M225.0 235.5h0M238.9 313.8h0M226.7 298.8h0M234.3 242.9h0M238.3 247.0h0M223.1 274.6h0M232.3 272.8h0M241.4 243.0h0M237.3 314.2h0M221.0 321.7h0M221.5 340.5h0M226.9 317.4h0M234.3 277.5h0M233.2 345.1h0M237.0 239.0h0M222.4 329.0h0M234.3 312.8h0M223.1 257.1h0M218.0 241.0h0M226.4 303.7h0M229.1 311.9h0M234.2 271.8h0M241.8 335.7h0M222.7 272.8h0M235.9 314.0h0M236.2 305.4h0M230.2 246.9h0M232.7 259.3h0M222.1 329.7h0M226.4 251.5h0M241.4 307.4h0M219.6 306.8h0M235.4 262.6h0M229.9 306.6h0M241.0 275.9h0M222.8 323.7h0M218.2 278.6h0M234.9 320.2h0M232.4 316.2h0M241.6 278.0h0M219.8 296.5h0M218.5 279.2h0M219.5 257.7h0M242.0 286.8h0M237.9 269.5h0M234.2 326.6h0M218.3 273.9h0M232.3 335.8h0M217.8 253.3h0M239.0 338.1h0M223.4 296.5h0M222.6 304.9h0M238.8 310.3h0M225.5 255.2h0M241.8 281.8h0M233.9 263.1h0M218.0 292.5h0M230.5 255.4h0M222.6 352.1h0M242.6 244.5h0M242.8 338.6h0M223.7 321.5h0M238.6 293.3h0M233.7 274.4h0M229.8 322.7h0M233.7 324.8h0M232.0 307.0h0M228.6 270.0h0M237.0 291.3h0M229.6 260.4h0M242.8 281.6h0M241.5 303.5h0M218.8 293.6h0M227.7 259.2h0M238.0 294.5h0M240.0 304.1h0M223.3 305.2h0M220.5 270.1h0M227.5 249.5h0M242.1 228.1h0M225.4 295.1h0M224.4 332.0h0M239.4 323.9h0M236.9 231.9h0M222.2 290.4h0" stroke="#d8662e" stroke-opacity="0.62" stroke-width="1.7" stroke-linecap="round"/>
<path d="M222.8 266.1h0M226.2 278.3h0M218.2 270.5h0M226.3 309.8h0M231.1 329.2h0M239.5 309.9h0M225.8 278.9h0M233.6 312.4h0M240.6 316.4h0M221.4 309.0h0M225.2 297.4h0M234.8 258.7h0M232.6 269.5h0M239.0 263.4h0M220.6 286.5h0M218.7 338.2h0M234.2 245.2h0M217.7 328.5h0M231.6 284.3h0M218.2 251.9h0M238.0 301.1h0M233.3 340.7h0M220.9 281.1h0M230.3 346.7h0M232.3 306.3h0M220.3 341.3h0M229.0 322.0h0M239.5 282.2h0M232.2 335.7h0M238.0 324.3h0M229.1 278.2h0M219.7 284.6h0M234.7 255.3h0M239.6 294.1h0M224.1 295.9h0M223.3 334.7h0M225.2 298.2h0M229.9 316.3h0M222.8 336.0h0M227.6 306.7h0M232.8 296.6h0M234.7 258.3h0M226.6 276.3h0M239.8 322.8h0M226.5 290.3h0M234.9 295.3h0M232.4 274.1h0M225.0 301.5h0M227.6 235.3h0M228.8 341.7h0M237.2 305.3h0M234.1 311.7h0M221.5 301.5h0M227.7 345.9h0M220.4 295.8h0M237.3 301.0h0M221.2 303.3h0M218.7 319.4h0M232.1 277.8h0M231.2 242.6h0M235.5 288.2h0M237.0 296.2h0M218.8 248.9h0M220.9 282.7h0M242.4 267.7h0M227.6 276.5h0M218.3 293.2h0M221.5 257.1h0M218.8 312.0h0M233.7 301.5h0M239.9 342.2h0M237.0 274.8h0M236.6 310.2h0M225.9 295.8h0M220.0 289.6h0M242.8 317.3h0M227.6 253.4h0M235.7 278.4h0M232.5 314.7h0M233.2 233.0h0M228.8 332.6h0M218.1 339.4h0M230.0 315.2h0M222.6 257.9h0M232.1 259.5h0M232.4 272.6h0M230.7 291.0h0M237.0 287.5h0M239.5 269.9h0M234.3 308.6h0M226.7 303.7h0M230.4 279.1h0M236.1 279.0h0M240.8 236.0h0M238.8 268.1h0M226.7 286.3h0M219.7 308.6h0M234.1 267.4h0M225.9 298.4h0M230.5 311.3h0M237.4 277.2h0M235.3 306.2h0M229.3 278.1h0M242.7 322.0h0M241.5 276.1h0M235.7 305.1h0M220.6 259.0h0M220.1 267.4h0M225.3 321.1h0M240.0 315.2h0M233.6 264.6h0M239.4 250.2h0M235.1 332.8h0M237.7 227.9h0M218.8 324.3h0M227.4 268.7h0M234.3 284.3h0M223.4 233.3h0M230.8 322.4h0M229.1 338.8h0M242.1 274.6h0M226.2 277.4h0M232.4 339.9h0M227.9 264.5h0M233.2 248.6h0M232.2 285.9h0M219.3 266.4h0M233.4 245.8h0M240.5 253.0h0M235.8 337.1h0M242.0 308.9h0M229.2 321.0h0M228.0 235.1h0M233.4 346.2h0M226.3 291.4h0M228.3 260.1h0M242.7 303.3h0M232.9 266.6h0M233.5 279.6h0M224.2 280.2h0M223.6 259.0h0M233.1 269.7h0M222.8 299.2h0M222.4 293.9h0M220.7 276.8h0M237.1 312.8h0M237.6 256.7h0M233.1 290.3h0M222.9 246.3h0M233.0 298.3h0M225.9 270.1h0M236.4 302.9h0M239.6 288.8h0M218.1 309.5h0M241.5 247.6h0M227.7 244.0h0M234.9 256.5h0M226.3 298.9h0M234.2 264.3h0M219.6 266.3h0M221.3 292.2h0M223.8 257.8h0M238.0 317.1h0M237.2 328.9h0M234.9 318.0h0M219.7 300.1h0M226.8 307.4h0M224.1 337.2h0M220.1 251.1h0M219.7 304.3h0M221.3 346.3h0M222.2 267.2h0M230.7 277.3h0M231.4 281.9h0M240.1 304.2h0M236.3 309.7h0M234.9 331.2h0M234.2 274.0h0M240.1 337.5h0M241.5 324.5h0M224.0 303.6h0M220.6 306.6h0M227.4 301.7h0M225.8 329.2h0M238.3 247.5h0M223.1 312.7h0M219.1 318.2h0M233.1 324.3h0M234.0 293.6h0M226.0 297.3h0M232.7 245.2h0M240.7 278.9h0M227.6 245.8h0M241.6 273.4h0M227.6 269.9h0M219.8 253.3h0M228.4 299.8h0M230.7 295.8h0M236.9 317.0h0M236.3 290.2h0M239.9 290.5h0M223.2 228.7h0M233.5 330.9h0M228.3 320.5h0M223.5 274.9h0M220.9 275.4h0M232.2 319.1h0M236.9 330.9h0M222.6 333.6h0M229.3 296.4h0M241.5 251.3h0M228.5 284.7h0M228.1 277.9h0M221.6 272.3h0M227.6 257.3h0M235.8 294.8h0M228.1 235.2h0M242.4 282.5h0M219.4 264.5h0M239.0 328.3h0M232.4 261.0h0M229.0 260.0h0M226.8 276.5h0M224.3 254.0h0M222.0 277.9h0M241.7 284.3h0M222.6 255.6h0M235.9 235.0h0M238.9 313.8h0M234.3 242.9h0M223.1 274.6h0M241.4 243.0h0M221.0 321.7h0M226.9 317.4h0M233.2 345.1h0M222.4 329.0h0M223.1 257.1h0M226.4 303.7h0M234.2 271.8h0M222.7 272.8h0M236.2 305.4h0M232.7 259.3h0M226.4 251.5h0M219.6 306.8h0M229.9 306.6h0M222.8 323.7h0M234.9 320.2h0M241.6 278.0h0M218.5 279.2h0M242.0 286.8h0M234.2 326.6h0M232.3 335.8h0M239.0 338.1h0M222.6 304.9h0M225.5 255.2h0M233.9 263.1h0M230.5 255.4h0M242.6 244.5h0M223.7 321.5h0M233.7 274.4h0M233.7 324.8h0M228.6 270.0h0M229.6 260.4h0M241.5 303.5h0M227.7 259.2h0M240.0 304.1h0M220.5 270.1h0M242.1 228.1h0M224.4 332.0h0M236.9 231.9h0" stroke="#a04e24" stroke-opacity="0.5" stroke-width="0.9" stroke-linecap="round"/>
<rect x="206.5" y="274.8" width="47.2" height="36.4" fill="none" stroke="#d8a084" stroke-width="0.8"/>
<path d="M206.5 292.9H253.7" stroke="#d07850" stroke-width="1.4"/>
<path d="M292.5 248V287.2M292.5 316.3V336.8" stroke="#86c0c0" stroke-width="0.75"/>
<path d="M305.2 285.2h0M298.7 295.2h0M291.3 286.3h0M286.9 288.4h0M281.2 303.6h0M290.4 290.3h0M296.2 276.5h0M296.1 320.4h0M298.3 319.0h0M287.9 294.9h0M281.2 297.7h0M283.7 289.9h0M302.1 291.1h0M283.7 320.8h0M284.3 252.3h0M287.2 313.8h0M282.0 268.0h0M290.1 311.3h0M300.5 283.6h0M284.5 283.0h0M296.6 310.1h0M290.7 309.2h0M285.3 318.3h0M290.1 303.0h0M305.3 310.2h0M298.0 297.1h0M297.5 278.3h0M291.4 304.6h0M284.0 284.4h0M303.3 323.1h0M301.5 308.1h0M286.7 306.3h0M298.6 299.6h0M289.8 312.7h0M288.7 314.2h0M303.6 281.4h0M285.4 279.7h0M280.1 336.1h0M281.1 293.5h0M290.4 271.0h0M292.9 295.5h0M289.5 290.9h0M292.5 295.5h0M298.7 294.8h0M288.3 307.7h0M294.6 312.0h0M283.7 291.9h0M287.2 282.4h0M290.0 305.0h0M288.1 265.8h0M280.9 303.4h0M281.1 304.1h0M292.4 255.1h0M287.0 285.8h0M282.1 257.0h0M292.6 321.8h0M287.3 295.4h0M292.8 280.1h0M286.7 316.2h0M280.5 307.8h0M286.3 269.8h0M296.6 294.6h0M281.1 282.9h0M298.5 334.6h0M281.4 310.7h0M296.0 319.2h0M281.6 329.7h0M284.7 329.5h0M284.2 320.7h0M284.3 297.5h0M282.1 331.7h0M291.8 310.3h0M303.4 259.1h0M297.7 312.1h0M293.0 309.1h0M304.4 303.8h0M300.6 319.9h0M296.5 299.5h0M297.0 304.5h0M302.5 315.8h0M302.5 272.6h0M301.2 251.2h0M293.1 291.5h0M294.7 295.5h0M284.2 319.5h0M304.8 266.0h0M302.8 323.5h0M285.4 290.2h0M301.1 250.6h0M304.6 301.1h0M287.9 286.0h0M286.1 301.7h0M290.4 298.6h0M294.4 289.7h0M283.5 301.1h0M302.1 275.5h0M283.4 305.0h0M295.3 298.6h0M297.2 266.0h0M286.8 301.2h0M302.0 302.0h0M293.1 302.8h0M287.0 332.8h0M279.7 291.4h0M290.5 304.2h0M284.9 297.8h0M285.0 311.9h0M297.1 283.5h0M294.3 300.0h0M279.7 292.5h0M287.7 242.3h0" stroke="#4aa3a3" stroke-opacity="0.72" stroke-width="1.6" stroke-linecap="round"/>
<rect x="268.5" y="287.2" width="47.2" height="29.1" fill="none" stroke="#86c0c0" stroke-width="0.8"/>
<path d="M268.5 305.1H315.7" stroke="#55a6a6" stroke-width="1.4"/>
<text x="232.7" y="370.8" text-anchor="middle" style="font-size:6.6px">Basal</text>
<text x="293.2" y="370.8" text-anchor="middle" style="font-size:6.6px">Non-basal</text>
<text x="218.29999999999998" y="212.7" textLength="64.3" lengthAdjust="spacingAndGlyphs" style="font-size:6.6px;font-weight:bold;fill:#111;stroke:none">Exhausted CD8 cells</text>
<text x="225.79999999999998" y="225.7" textLength="67.9" lengthAdjust="spacing" style="font-size:6.6px">Wilcoxon, <tspan font-style="italic">P</tspan> = 0.00037</text>
<text transform="translate(176.70000000000002 290) rotate(-90)" text-anchor="middle" style="font-size:6.6px">Exhausted CD8 score</text>
<path d="M380.3 220.7V363.0H517" fill="none" stroke="#9c9c9c" stroke-width="1.05"/>
<path d="M378.3 237.8H380.3M378.3 264.2H380.3M378.3 290.6H380.3M378.3 317.0H380.3M378.3 343.4H380.3M417.8 363.0V365.0M479.8 363.0V365.0" stroke="#9c9c9c" stroke-width="0.8"/>
<text x="377.1" y="240.10000000000002" text-anchor="end" style="font-size:6.6px">0</text>
<text x="377.1" y="266.5" text-anchor="end" style="font-size:6.6px">−1</text>
<text x="377.1" y="292.90000000000003" text-anchor="end" style="font-size:6.6px">−2</text>
<text x="377.1" y="319.3" text-anchor="end" style="font-size:6.6px">−3</text>
<text x="377.1" y="345.7" text-anchor="end" style="font-size:6.6px">−4</text>
<path d="M417.8 254V292.3M417.8 313.8V345.8" stroke="#d8a084" stroke-width="0.75"/>
<path d="M427.9 261.0h0M423.4 287.1h0M423.0 295.0h0M420.7 276.5h0M415.5 309.0h0M423.4 295.2h0M405.1 318.1h0M421.8 289.3h0M420.5 302.4h0M428.2 301.6h0M410.0 296.7h0M405.8 280.4h0M408.0 290.2h0M405.4 300.0h0M405.7 305.1h0M411.4 318.4h0M421.5 324.5h0M414.2 323.0h0M414.0 322.8h0M414.0 293.8h0M426.5 304.7h0M414.2 304.9h0M405.5 302.4h0M419.6 289.2h0M428.9 310.7h0M409.9 297.1h0M430.4 291.1h0M416.0 311.0h0M421.0 287.8h0M409.4 280.0h0M424.0 320.0h0M415.7 292.0h0M415.8 284.3h0M425.8 323.5h0M424.7 310.0h0M414.9 311.6h0M422.3 295.0h0M413.0 299.1h0M408.1 283.2h0M423.4 284.5h0M416.9 297.8h0M416.7 314.2h0M407.3 326.6h0M407.1 317.0h0M426.2 311.2h0M418.4 295.8h0M427.9 308.4h0M416.9 300.0h0M430.2 281.5h0M426.9 299.5h0M416.6 267.5h0M412.3 287.9h0M416.1 301.8h0M427.7 279.6h0M415.2 323.0h0M412.0 290.5h0M425.8 327.9h0M421.3 318.1h0M409.9 290.8h0M419.6 315.7h0M418.1 325.1h0M424.9 291.4h0M421.6 263.3h0M408.7 317.4h0M409.5 314.0h0M405.7 273.8h0M418.2 297.4h0M418.7 285.3h0M421.0 322.1h0M413.4 318.1h0M430.2 296.1h0M423.1 310.1h0M421.0 306.3h0M413.1 293.1h0M425.9 301.9h0M426.1 302.2h0M427.4 269.5h0M412.9 297.7h0M424.3 329.6h0M419.8 296.5h0M423.6 301.9h0M428.2 292.2h0M425.1 273.0h0M410.3 290.1h0M413.6 290.9h0M413.5 295.1h0M428.6 288.0h0M425.9 317.4h0M421.5 297.3h0M415.1 316.5h0M430.4 331.7h0M423.6 298.5h0M417.8 299.0h0M414.0 316.7h0M429.6 295.6h0M428.3 341.1h0M411.5 293.8h0M425.2 271.7h0M429.7 297.7h0M413.3 310.5h0M430.0 302.5h0M414.1 293.3h0M427.2 320.4h0M427.2 314.7h0M419.6 316.3h0M405.4 298.7h0M415.6 296.2h0M424.6 302.0h0M427.4 290.2h0M417.2 309.8h0M418.5 319.3h0M405.2 272.8h0M425.4 308.7h0M429.8 318.8h0M419.6 282.1h0M406.9 313.2h0M417.3 296.3h0M412.6 266.9h0M419.7 310.6h0M414.9 297.8h0M425.6 302.8h0M406.7 287.8h0M410.0 295.1h0M414.9 286.1h0M428.2 329.1h0M417.7 279.8h0M408.7 310.3h0M409.6 305.0h0M428.0 344.1h0M421.5 292.1h0M426.4 279.1h0M426.0 297.3h0M410.8 324.8h0M414.7 266.4h0M428.6 284.4h0M408.7 311.4h0M408.9 324.3h0M409.9 298.5h0M425.2 310.8h0M406.0 303.4h0M421.5 296.8h0M408.3 307.2h0M423.4 305.4h0M409.2 314.6h0M429.4 259.4h0M426.2 320.9h0M410.1 306.1h0M423.9 303.9h0M411.0 311.4h0M418.7 320.6h0M417.2 303.6h0M428.5 308.1h0M408.1 298.7h0M413.1 326.6h0M405.1 315.2h0M418.2 312.8h0M425.0 307.3h0M415.1 312.5h0M422.1 281.3h0M409.6 311.7h0M407.8 286.4h0M407.3 285.5h0M406.2 302.4h0M420.2 302.4h0M427.3 290.3h0M427.8 332.2h0M427.4 302.4h0M412.6 320.5h0M415.7 300.8h0M420.8 285.5h0M405.2 297.6h0M408.0 309.2h0M419.0 292.8h0M408.5 301.4h0M420.2 295.8h0M429.9 307.2h0M415.0 321.6h0M419.1 301.0h0M424.8 312.8h0M408.7 295.6h0M415.5 296.1h0M409.7 289.4h0M427.5 314.9h0M405.5 310.1h0M425.8 309.8h0M412.9 332.8h0M429.5 303.3h0M415.2 298.5h0M428.2 298.4h0M408.1 287.1h0M427.5 288.3h0M429.1 311.6h0M409.0 293.0h0M423.7 307.1h0M422.9 267.1h0M430.2 322.9h0M412.5 322.5h0M415.9 302.9h0M427.0 343.7h0M416.2 318.0h0M410.9 283.0h0M417.8 277.8h0M417.0 281.7h0M414.1 321.7h0M410.0 281.5h0M410.2 290.1h0M408.5 310.8h0M417.1 307.2h0M420.2 321.2h0M425.0 314.7h0M428.4 303.7h0M407.0 273.0h0M410.2 277.1h0M421.0 312.0h0M411.8 320.5h0M419.5 285.3h0M417.5 305.2h0M417.6 295.7h0M430.3 307.0h0M405.7 301.5h0M429.0 323.2h0M429.7 281.1h0M421.8 295.2h0M409.8 296.5h0M409.5 297.4h0M412.7 277.3h0M423.5 290.2h0M419.2 305.4h0M405.7 295.6h0M414.4 303.0h0M407.0 291.4h0M410.0 295.3h0M430.2 340.2h0M411.5 319.0h0M409.8 312.4h0M416.8 327.3h0M418.6 298.1h0M418.9 298.3h0M428.5 294.6h0M409.8 309.0h0M408.2 308.3h0M427.8 301.0h0M416.2 292.3h0M429.1 290.5h0M406.6 312.7h0M407.9 316.6h0M425.6 305.2h0M421.7 278.4h0M426.8 310.8h0M407.8 291.9h0M414.9 304.8h0M414.6 303.0h0M424.7 299.5h0M409.2 297.5h0M417.4 308.5h0M428.9 343.2h0M423.4 323.6h0M409.2 312.4h0M429.0 308.5h0M413.4 292.9h0M408.6 326.7h0M409.3 287.0h0M426.7 299.8h0M406.3 298.2h0M412.1 314.2h0M428.6 308.2h0M422.1 310.3h0M424.1 292.0h0M425.0 301.8h0M415.0 335.7h0M420.9 292.6h0M407.6 329.1h0M415.8 318.2h0M409.1 295.6h0M425.2 310.0h0M413.3 293.7h0M414.4 308.9h0M424.1 287.1h0M405.5 281.0h0M419.8 312.1h0M419.1 294.2h0M412.4 298.0h0M414.0 301.3h0M425.9 315.4h0M406.0 333.8h0M408.9 292.4h0M428.3 311.7h0M421.6 321.7h0M409.1 311.4h0M411.5 308.5h0M412.3 318.3h0M427.0 285.2h0M428.9 296.2h0M411.6 272.6h0M429.8 306.6h0M423.4 303.0h0M426.9 295.2h0M405.1 299.2h0M413.9 319.9h0M421.7 296.2h0M405.2 315.4h0M416.9 320.0h0M430.1 284.0h0M413.1 309.5h0M417.8 309.5h0M407.1 295.7h0M427.9 299.4h0M427.7 289.2h0M425.6 330.9h0M422.9 308.5h0M420.1 333.2h0M422.9 320.4h0M407.0 323.9h0M413.8 329.7h0M408.4 312.8h0M424.5 303.9h0M407.6 309.3h0M429.2 316.0h0M406.3 330.3h0M418.2 296.1h0M428.3 296.2h0M423.0 290.5h0M405.2 314.0h0M406.7 313.8h0M427.9 292.3h0M409.5 296.7h0M416.0 304.8h0M429.9 304.2h0M415.1 284.0h0M426.8 276.6h0M414.2 281.8h0M424.4 287.7h0M411.6 282.0h0M421.6 299.5h0M429.7 274.7h0M425.8 294.7h0M407.5 292.8h0M423.3 303.5h0M416.2 304.8h0M425.2 281.8h0M412.3 285.4h0M412.9 285.9h0M409.8 298.0h0M429.9 308.6h0M421.7 289.7h0M425.9 318.6h0M417.3 324.9h0M407.1 283.8h0M421.5 281.8h0M420.4 302.3h0M427.8 289.8h0M423.6 320.0h0M428.9 320.8h0M426.6 288.3h0M406.7 328.2h0M413.1 303.6h0M409.3 297.4h0M408.8 293.6h0M411.7 298.5h0M424.6 299.5h0M408.4 326.9h0M430.2 305.6h0M426.3 295.0h0M422.8 320.2h0M411.6 301.9h0M405.7 265.9h0M428.0 306.7h0M410.0 285.6h0M418.9 313.9h0M409.3 334.6h0M411.0 306.7h0M418.2 310.8h0M416.2 286.8h0M428.7 296.6h0M413.4 316.3h0M413.6 288.4h0M407.7 299.4h0M406.1 305.5h0M425.1 290.0h0M423.3 332.5h0M408.6 282.2h0M411.9 308.7h0M408.1 285.0h0M412.2 330.8h0M409.6 313.9h0M407.7 277.5h0M422.4 306.7h0M409.0 300.7h0M412.2 286.9h0M416.5 304.3h0M417.7 294.5h0M429.3 307.2h0M422.3 289.1h0M414.6 305.4h0M415.7 336.8h0M417.7 292.9h0M429.1 317.7h0M428.5 300.8h0M423.8 333.0h0M422.1 284.4h0M415.3 290.6h0M408.3 284.1h0M428.7 295.4h0M413.0 327.9h0M410.3 285.9h0M423.8 291.4h0M425.4 289.5h0M425.3 266.5h0M427.6 307.9h0M409.2 331.8h0M429.9 318.3h0M408.6 297.4h0M409.0 303.2h0M426.7 339.9h0M405.6 288.6h0M413.4 292.5h0M428.5 337.0h0M417.0 283.4h0M419.9 297.0h0M424.4 290.9h0M428.1 305.1h0M421.4 307.4h0M405.4 299.5h0M422.5 319.2h0M415.3 324.6h0M429.1 303.2h0M416.3 281.3h0M409.9 321.2h0M413.6 322.8h0M420.3 261.5h0M410.5 304.3h0M429.4 288.5h0M416.0 304.4h0M415.1 307.3h0M409.7 276.5h0M416.9 303.5h0M406.9 311.1h0M425.3 321.3h0M419.4 292.0h0M428.8 327.0h0M406.2 321.8h0M419.3 297.4h0M417.1 267.9h0M415.2 298.7h0M426.5 312.4h0M408.2 282.7h0M428.4 297.1h0M423.8 296.7h0M420.6 304.6h0M415.0 306.1h0M410.4 311.9h0M421.1 297.7h0M423.6 296.0h0M428.3 283.0h0M416.5 294.7h0M410.5 274.7h0M411.9 286.9h0M425.9 337.3h0M428.1 302.6h0M416.7 333.4h0M420.9 267.9h0M423.5 295.8h0M428.4 303.9h0M425.5 290.7h0M405.6 329.2h0M425.4 285.1h0M421.1 327.7h0M424.4 312.7h0M414.3 334.6h0M413.8 282.6h0M427.6 292.0h0M409.9 275.6h0M426.9 299.8h0M421.4 334.8h0M421.7 323.8h0M420.5 328.7h0M406.5 276.5h0M417.4 321.2h0M421.4 285.1h0M428.2 291.9h0M427.9 327.9h0M428.8 323.8h0M421.8 314.2h0M416.0 319.9h0M425.8 293.2h0M423.1 308.3h0M410.2 296.5h0M427.9 308.0h0M423.2 319.3h0M423.0 312.6h0M429.3 273.1h0M407.3 291.4h0M428.8 307.7h0M415.0 310.2h0M428.6 284.6h0M411.9 299.7h0M427.4 320.1h0M414.0 301.0h0M427.9 301.8h0M421.6 281.8h0M407.5 275.1h0M426.6 290.1h0M425.0 288.8h0M408.9 325.2h0M413.2 325.6h0M426.4 332.0h0M409.8 284.1h0M421.3 303.0h0M414.9 330.0h0M416.9 304.1h0M416.0 309.7h0M422.6 323.3h0M421.2 286.7h0M416.8 291.6h0M419.3 318.4h0M409.1 289.5h0M412.1 305.6h0M417.3 315.5h0M426.1 298.7h0M417.1 301.4h0M413.5 301.5h0M410.7 330.3h0M425.5 273.4h0M415.7 282.0h0M423.6 310.6h0M420.4 280.6h0M410.1 294.8h0M422.9 329.9h0M415.9 291.8h0M428.3 313.7h0M423.1 294.2h0M416.2 294.1h0M427.1 335.6h0M415.8 296.7h0M427.3 283.8h0M416.5 277.3h0M420.9 293.5h0M406.0 299.5h0M417.4 288.3h0M427.1 301.8h0M415.0 244.0h0M425.0 244.3h0M422.5 244.6h0M413.6 356.0h0M424.9 356.3h0" stroke="#d8662e" stroke-opacity="0.62" stroke-width="1.7" stroke-linecap="round"/>
<path d="M427.9 261.0h0M423.0 295.0h0M415.5 309.0h0M405.1 318.1h0M420.5 302.4h0M410.0 296.7h0M408.0 290.2h0M405.7 305.1h0M421.5 324.5h0M414.0 322.8h0M426.5 304.7h0M405.5 302.4h0M428.9 310.7h0M430.4 291.1h0M421.0 287.8h0M424.0 320.0h0M415.8 284.3h0M424.7 310.0h0M422.3 295.0h0M408.1 283.2h0M416.9 297.8h0M407.3 326.6h0M426.2 311.2h0M427.9 308.4h0M430.2 281.5h0M416.6 267.5h0M416.1 301.8h0M415.2 323.0h0M425.8 327.9h0M409.9 290.8h0M418.1 325.1h0M421.6 263.3h0M409.5 314.0h0M418.2 297.4h0M421.0 322.1h0M430.2 296.1h0M421.0 306.3h0M425.9 301.9h0M427.4 269.5h0M424.3 329.6h0M423.6 301.9h0M425.1 273.0h0M413.6 290.9h0M428.6 288.0h0M421.5 297.3h0M430.4 331.7h0M417.8 299.0h0M429.6 295.6h0M411.5 293.8h0M429.7 297.7h0M430.0 302.5h0M427.2 320.4h0M419.6 316.3h0M415.6 296.2h0M427.4 290.2h0M418.5 319.3h0M425.4 308.7h0M419.6 282.1h0M417.3 296.3h0M419.7 310.6h0M425.6 302.8h0M410.0 295.1h0M428.2 329.1h0M408.7 310.3h0M428.0 344.1h0M426.4 279.1h0M410.8 324.8h0M428.6 284.4h0M408.9 324.3h0M425.2 310.8h0M421.5 296.8h0M423.4 305.4h0M429.4 259.4h0M410.1 306.1h0M411.0 311.4h0M417.2 303.6h0M408.1 298.7h0M405.1 315.2h0M425.0 307.3h0M422.1 281.3h0M407.8 286.4h0M406.2 302.4h0M427.3 290.3h0M427.4 302.4h0M415.7 300.8h0M405.2 297.6h0M419.0 292.8h0M420.2 295.8h0M415.0 321.6h0M424.8 312.8h0M415.5 296.1h0M427.5 314.9h0M425.8 309.8h0M429.5 303.3h0M428.2 298.4h0M427.5 288.3h0M409.0 293.0h0M422.9 267.1h0M412.5 322.5h0M427.0 343.7h0M410.9 283.0h0M417.0 281.7h0M410.0 281.5h0M408.5 310.8h0M420.2 321.2h0M428.4 303.7h0M410.2 277.1h0M411.8 320.5h0M417.5 305.2h0M430.3 307.0h0M429.0 323.2h0M421.8 295.2h0M409.5 297.4h0M423.5 290.2h0M405.7 295.6h0M407.0 291.4h0M430.2 340.2h0M409.8 312.4h0M418.6 298.1h0M428.5 294.6h0M408.2 308.3h0M416.2 292.3h0M406.6 312.7h0M425.6 305.2h0M426.8 310.8h0M414.9 304.8h0M424.7 299.5h0M417.4 308.5h0M423.4 323.6h0M429.0 308.5h0M408.6 326.7h0M426.7 299.8h0M412.1 314.2h0M422.1 310.3h0M425.0 301.8h0M420.9 292.6h0M415.8 318.2h0M425.2 310.0h0M414.4 308.9h0M405.5 281.0h0M419.1 294.2h0M414.0 301.3h0M406.0 333.8h0M428.3 311.7h0M409.1 311.4h0M412.3 318.3h0M428.9 296.2h0M429.8 306.6h0M426.9 295.2h0M413.9 319.9h0M405.2 315.4h0M430.1 284.0h0M417.8 309.5h0M427.9 299.4h0M425.6 330.9h0M420.1 333.2h0M407.0 323.9h0M408.4 312.8h0M407.6 309.3h0M406.3 330.3h0M428.3 296.2h0M405.2 314.0h0M427.9 292.3h0M416.0 304.8h0M415.1 284.0h0M414.2 281.8h0M411.6 282.0h0M429.7 274.7h0M407.5 292.8h0M416.2 304.8h0M412.3 285.4h0M409.8 298.0h0M421.7 289.7h0M417.3 324.9h0M421.5 281.8h0M427.8 289.8h0M428.9 320.8h0M406.7 328.2h0M409.3 297.4h0M411.7 298.5h0M408.4 326.9h0M426.3 295.0h0M411.6 301.9h0M428.0 306.7h0M418.9 313.9h0M411.0 306.7h0M416.2 286.8h0M413.4 316.3h0M407.7 299.4h0M425.1 290.0h0M408.6 282.2h0M408.1 285.0h0M409.6 313.9h0M422.4 306.7h0M412.2 286.9h0M417.7 294.5h0M422.3 289.1h0M415.7 336.8h0M429.1 317.7h0M423.8 333.0h0M415.3 290.6h0M428.7 295.4h0M410.3 285.9h0M425.4 289.5h0M427.6 307.9h0M429.9 318.3h0M409.0 303.2h0M405.6 288.6h0M428.5 337.0h0M419.9 297.0h0M428.1 305.1h0M405.4 299.5h0M415.3 324.6h0M416.3 281.3h0M413.6 322.8h0M410.5 304.3h0M416.0 304.4h0M409.7 276.5h0M406.9 311.1h0M419.4 292.0h0M406.2 321.8h0M417.1 267.9h0M426.5 312.4h0M428.4 297.1h0M420.6 304.6h0M410.4 311.9h0M423.6 296.0h0M416.5 294.7h0M411.9 286.9h0M428.1 302.6h0M420.9 267.9h0M428.4 303.9h0M405.6 329.2h0M421.1 327.7h0M414.3 334.6h0M427.6 292.0h0M426.9 299.8h0M421.7 323.8h0M406.5 276.5h0M421.4 285.1h0M427.9 327.9h0M421.8 314.2h0M425.8 293.2h0M410.2 296.5h0M423.2 319.3h0M429.3 273.1h0M428.8 307.7h0M428.6 284.6h0M427.4 320.1h0M427.9 301.8h0M407.5 275.1h0M425.0 288.8h0M413.2 325.6h0M409.8 284.1h0M414.9 330.0h0M416.0 309.7h0M421.2 286.7h0M419.3 318.4h0M412.1 305.6h0M426.1 298.7h0M413.5 301.5h0M425.5 273.4h0M423.6 310.6h0M410.1 294.8h0M415.9 291.8h0M423.1 294.2h0M427.1 335.6h0M427.3 283.8h0M420.9 293.5h0M417.4 288.3h0M415.0 244.0h0M422.5 244.6h0M424.9 356.3h0" stroke="#a04e24" stroke-opacity="0.5" stroke-width="0.9" stroke-linecap="round"/>
<rect x="394" y="292.3" width="47.6" height="21.5" fill="none" stroke="#d8a084" stroke-width="0.8"/>
<path d="M394 303.6H441.6" stroke="#d07850" stroke-width="1.4"/>
<path d="M479.8 240.8V276.3M479.8 298.5V322.5" stroke="#86c0c0" stroke-width="0.75"/>
<path d="M481.1 266.1h0M489.8 288.6h0M486.2 298.9h0M473.9 295.7h0M492.0 280.0h0M488.5 268.5h0M482.4 303.2h0M484.8 307.1h0M477.0 274.5h0M472.9 304.4h0M479.0 265.6h0M476.9 248.4h0M492.6 309.2h0M482.2 290.5h0M470.3 285.3h0M473.7 290.5h0M475.2 272.5h0M474.7 306.5h0M481.8 262.5h0M482.5 270.7h0M486.3 292.0h0M471.7 303.4h0M477.6 283.4h0M486.5 297.7h0M469.6 273.0h0M476.1 283.1h0M475.3 314.8h0M477.8 290.7h0M471.2 300.2h0M492.2 251.7h0M485.8 272.3h0M491.5 300.9h0M491.9 273.0h0M485.6 292.6h0M481.7 294.0h0M469.4 305.2h0M491.9 298.7h0M482.3 298.1h0M490.0 265.0h0M480.2 276.0h0M473.6 292.5h0M481.9 276.7h0M469.7 277.3h0M481.4 278.2h0M467.7 310.6h0M481.0 267.8h0M482.6 291.5h0M484.0 276.9h0M470.6 307.8h0M479.9 275.6h0M468.1 311.1h0M474.1 306.9h0M481.2 286.2h0M480.1 259.4h0M491.8 273.2h0M484.0 313.7h0M485.6 280.9h0M488.9 292.4h0M488.6 320.4h0M470.0 269.8h0M487.4 279.2h0M471.7 264.6h0M483.1 300.2h0M481.3 281.4h0M474.5 305.9h0M483.1 302.6h0M472.2 278.2h0M478.0 277.6h0M481.0 284.6h0M488.5 298.9h0M471.2 262.3h0M474.4 281.8h0M481.1 301.8h0M470.2 290.6h0M475.4 300.0h0M492.1 281.5h0M477.6 288.9h0M467.6 298.9h0M488.2 281.6h0M483.5 249.3h0M487.6 286.8h0M471.9 270.9h0M475.7 276.8h0M483.8 278.6h0M468.1 283.6h0M490.6 298.5h0M481.4 278.5h0M491.4 290.9h0M491.7 287.5h0M482.9 249.7h0M467.6 277.7h0M477.7 300.5h0M467.9 274.6h0M478.4 289.3h0M473.1 279.2h0M490.7 265.4h0M473.7 282.5h0M474.1 285.1h0M480.5 307.8h0M470.2 274.4h0M488.4 303.3h0M489.2 275.4h0M491.8 302.2h0M486.2 290.4h0M487.4 271.6h0M472.8 302.6h0M486.0 316.4h0M486.8 318.6h0M481.2 272.0h0M482.0 267.4h0M473.6 228.0h0" stroke="#4aa3a3" stroke-opacity="0.72" stroke-width="1.6" stroke-linecap="round"/>
<rect x="456.1" y="276.3" width="47.5" height="22.2" fill="none" stroke="#86c0c0" stroke-width="0.8"/>
<path d="M456.1 288.3H503.6" stroke="#55a6a6" stroke-width="1.4"/>
<text x="420.1" y="370.8" text-anchor="middle" style="font-size:6.6px">Basal</text>
<text x="481.1" y="370.8" text-anchor="middle" style="font-size:6.6px">Non-basal</text>
<text x="411.59999999999997" y="212.7" textLength="51.7" lengthAdjust="spacingAndGlyphs" style="font-size:6.6px;font-weight:bold;fill:#111;stroke:none">Endothelial cells</text>
<text x="411.2" y="227.0" textLength="63.5" lengthAdjust="spacing" style="font-size:6.6px">Wilcoxon, <tspan font-style="italic">P</tspan> &lt; 0.0001</text>
<text transform="translate(362.6 292) rotate(-90)" text-anchor="middle" style="font-size:6.6px">Endothelial score</text>
</svg></body></html>
